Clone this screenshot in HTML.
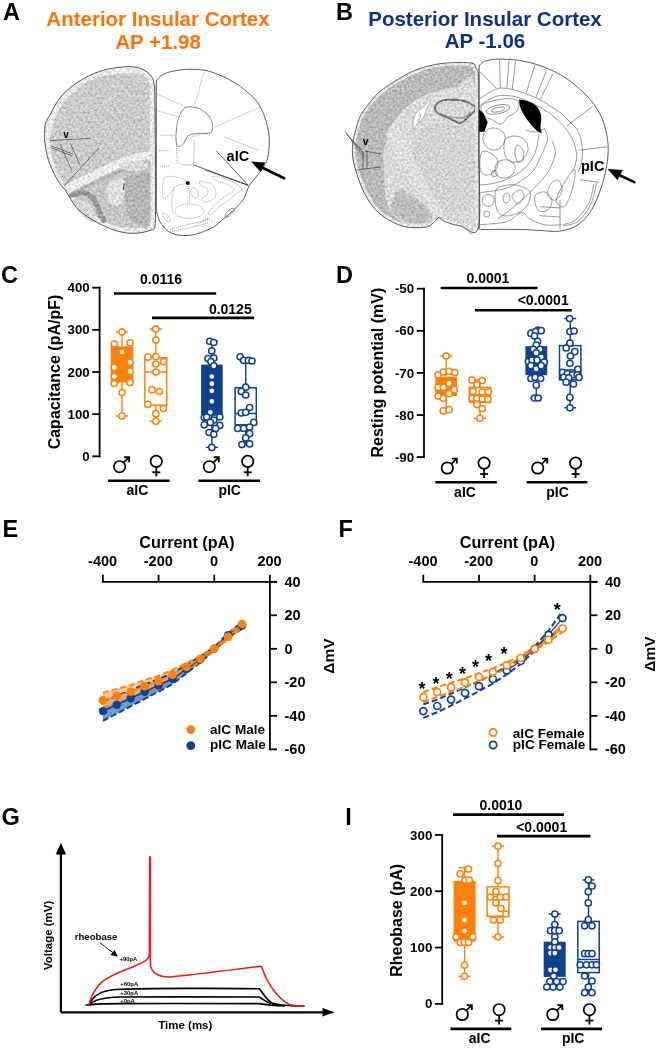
<!DOCTYPE html><html><head><meta charset="utf-8"><style>html,body{margin:0;padding:0;background:#fff;width:656px;height:1049px;overflow:hidden}svg{display:block;will-change:transform}</style></head><body>
<svg width="656" height="1049" viewBox="0 0 656 1049" font-family="Liberation Sans, sans-serif" font-weight="bold">
<text x="3" y="19.5" font-size="23.5" text-anchor="start" fill="#000" >A</text>
<text x="336" y="19.5" font-size="23.5" text-anchor="start" fill="#000" >B</text>
<text x="158" y="26" font-size="20.5" text-anchor="middle" fill="#FF7208" >Anterior Insular Cortex</text>
<text x="158" y="48.5" font-size="20.5" text-anchor="middle" fill="#FF7208" >AP +1.98</text>
<text x="485" y="26" font-size="20.5" text-anchor="middle" fill="#0D3282" >Posterior Insular Cortex</text>
<text x="485" y="48" font-size="20.5" text-anchor="middle" fill="#0D3282" >AP -1.06</text>
<defs>
<filter id="tex" filterUnits="userSpaceOnUse" x="0" y="50" width="656" height="200" color-interpolation-filters="sRGB">
<feTurbulence type="fractalNoise" baseFrequency="0.42" numOctaves="2" seed="7" result="n"/>
<feColorMatrix in="n" type="matrix" values="1 0 0 0 0  1 0 0 0 0  1 0 0 0 0  0 0 0 0 1" result="g"/>
<feComposite in="SourceGraphic" in2="g" operator="arithmetic" k1="0" k2="1" k3="0.4" k4="-0.2" result="c"/>
<feComposite in="c" in2="SourceGraphic" operator="in"/>
</filter>
</defs>
<g filter="url(#tex)">
<path d="M44.6,140.0 C44.2,136.1 44.5,136.0 44.6,133.2 C44.8,130.4 44.4,126.5 45.5,123.1 C46.6,119.7 48.9,116.8 51.0,113.0 C53.1,109.2 55.2,104.3 58.3,100.2 C61.3,96.1 64.7,92.2 69.3,88.4 C73.9,84.6 79.9,80.5 85.7,77.4 C91.5,74.3 97.9,71.7 104.0,70.0 C110.1,68.3 116.8,67.5 122.3,67.0 C127.8,66.5 132.9,66.5 137.0,67.3 C141.1,68.1 144.4,70.1 147.0,71.9 C149.6,73.7 151.2,75.6 152.5,78.3 C153.8,81.0 154.1,82.7 154.5,88.0 C154.9,93.3 154.8,98.0 155.0,110.0 C155.2,122.0 155.4,145.0 155.5,160.0 C155.6,175.0 155.6,189.0 155.5,200.0 C155.4,211.0 155.9,220.9 155.0,226.0 C154.1,231.1 153.1,229.3 149.8,230.5 C146.5,231.7 140.3,233.1 135.1,233.3 C129.9,233.5 124.2,232.9 118.7,231.5 C113.2,230.1 107.4,227.5 102.2,225.1 C97.0,222.7 91.9,219.7 87.6,216.8 C83.3,213.9 79.6,211.0 76.6,207.7 C73.5,204.3 71.3,199.8 69.3,196.7 C67.3,193.6 66.2,191.5 64.7,189.4 C63.2,187.3 62.1,187.0 60.1,183.9 C58.1,180.8 54.9,175.7 52.8,171.1 C50.7,166.5 48.7,161.7 47.3,156.5 C45.9,151.3 45.0,143.9 44.6,140.0 Z" fill="#e9e9e9"/>
<path d="M50.0,140.0 C49.8,136.2 49.9,137.4 51.0,133.2 C52.1,129.0 54.1,120.4 56.5,114.9 C58.9,109.4 62.2,104.5 65.6,100.2 C68.9,95.9 71.7,93.0 76.6,89.3 C81.5,85.6 88.2,80.9 94.9,78.3 C101.6,75.7 109.5,74.5 116.8,73.7 C124.1,72.9 133.6,72.6 138.8,73.7 C144.0,74.8 146.1,77.5 147.9,80.1 C149.7,82.7 149.5,80.5 149.8,89.3 C150.2,98.1 149.9,119.5 150.0,133.0 C150.1,146.4 150.5,155.2 150.5,170.0 C150.5,184.8 151.8,212.3 150.0,222.0 C148.2,231.7 145.2,227.2 140.0,228.0 C134.8,228.8 125.2,227.8 119.0,226.5 C112.8,225.2 108.0,222.8 103.0,220.5 C98.0,218.2 93.2,215.4 89.0,212.5 C84.8,209.6 81.0,206.3 78.0,203.0 C75.0,199.7 73.2,195.5 71.0,192.5 C68.8,189.5 67.3,188.6 65.0,185.0 C62.7,181.4 59.2,175.8 57.0,171.0 C54.8,166.2 53.2,161.2 52.0,156.0 C50.8,150.8 50.2,143.8 50.0,140.0 Z" fill="#cbcbcb"/>
<path d="M66.0,189.0 C69.2,186.8 81.3,183.5 90.0,180.0 C98.7,176.5 108.0,171.3 118.0,168.0 C128.0,164.7 144.6,151.0 150.0,160.0 C155.4,169.0 152.2,210.8 150.5,222.0 C148.8,233.2 145.2,226.8 140.0,227.5 C134.8,228.2 125.2,227.2 119.0,226.0 C112.8,224.8 108.0,222.3 103.0,220.0 C98.0,217.7 93.2,214.9 89.0,212.0 C84.8,209.1 81.0,205.7 78.0,202.5 C75.0,199.3 73.0,195.2 71.0,193.0 C69.0,190.8 62.8,191.2 66.0,189.0 Z" fill="#c6c6c6"/>
<path d="M126.0,178.0 C128.2,173.7 134.2,175.0 138.0,174.0 C141.8,173.0 147.0,167.7 149.0,172.0 C151.0,176.3 150.0,191.7 150.0,200.0 C150.0,208.3 150.7,217.8 149.0,222.0 C147.3,226.2 143.2,225.7 140.0,225.0 C136.8,224.3 132.5,222.2 130.0,218.0 C127.5,213.8 125.7,206.7 125.0,200.0 C124.3,193.3 123.8,182.3 126.0,178.0 Z" fill="#b5b5b5"/>
<path d="M108.0,184.0 C109.7,181.2 114.3,179.7 117.0,179.0 C119.7,178.3 122.8,177.7 124.0,180.0 C125.2,182.3 125.0,189.0 124.5,193.0 C124.0,197.0 123.1,202.0 121.0,204.0 C118.9,206.0 114.3,206.3 112.0,205.0 C109.7,203.7 107.7,199.5 107.0,196.0 C106.3,192.5 106.3,186.8 108.0,184.0 Z" fill="#dedede"/>
<path d="M74.0,201.0 C75.5,199.7 82.8,199.8 86.0,201.0 C89.2,202.2 91.2,205.0 93.0,208.0 C94.8,211.0 97.2,216.7 97.0,219.0 C96.8,221.3 94.3,222.5 92.0,222.0 C89.7,221.5 85.5,218.2 83.0,216.0 C80.5,213.8 78.5,211.5 77.0,209.0 C75.5,206.5 72.5,202.3 74.0,201.0 Z" fill="#d8d8d8"/>
<path d="M74,193 C88,186 104,178 118,172 C128,168 140,166 150,165" fill="none" stroke="#b2b2b2" stroke-width="3"/>
<path d="M71.8,195.3 C73.8,194.9 80.2,192.5 83.5,192.8 C86.8,193.1 89.7,194.9 91.9,197.0 C94.2,199.1 95.6,202.5 97.0,205.3 C98.4,208.1 99.2,211.2 100.3,213.7 C101.4,216.2 103.1,219.3 103.7,220.4" fill="none" stroke="#969696" stroke-width="5" stroke-linecap="round"/>
<path d="M63.4,186 C80,177 100,168 117,160 C128,155 140,152 150,151 L150,159 C140,160 128,164 118.7,168.4 C100,177 84,185 70.1,192.8 Z" fill="#ebebeb"/>
<ellipse cx="134" cy="166" rx="15" ry="5" fill="#d9d9d9"/>
<rect x="150.5" y="85" width="5" height="142" fill="#e6e6e6"/>
</g>
<path d="M44.6,140.0 C44.2,136.1 44.5,136.0 44.6,133.2 C44.8,130.4 44.4,126.5 45.5,123.1 C46.6,119.7 48.9,116.8 51.0,113.0 C53.1,109.2 55.2,104.3 58.3,100.2 C61.3,96.1 64.7,92.2 69.3,88.4 C73.9,84.6 79.9,80.5 85.7,77.4 C91.5,74.3 97.9,71.7 104.0,70.0 C110.1,68.3 116.8,67.5 122.3,67.0 C127.8,66.5 132.9,66.5 137.0,67.3 C141.1,68.1 144.4,70.1 147.0,71.9 C149.6,73.7 151.2,75.6 152.5,78.3 C153.8,81.0 154.1,82.7 154.5,88.0 C154.9,93.3 154.8,98.0 155.0,110.0 C155.2,122.0 155.4,145.0 155.5,160.0 C155.6,175.0 155.6,189.0 155.5,200.0 C155.4,211.0 155.9,220.9 155.0,226.0 C154.1,231.1 153.1,229.3 149.8,230.5 C146.5,231.7 140.3,233.1 135.1,233.3 C129.9,233.5 124.2,232.9 118.7,231.5 C113.2,230.1 107.4,227.5 102.2,225.1 C97.0,222.7 91.9,219.7 87.6,216.8 C83.3,213.9 79.6,211.0 76.6,207.7 C73.5,204.3 71.3,199.8 69.3,196.7 C67.3,193.6 66.2,191.5 64.7,189.4 C63.2,187.3 62.1,187.0 60.1,183.9 C58.1,180.8 54.9,175.7 52.8,171.1 C50.7,166.5 48.7,161.7 47.3,156.5 C45.9,151.3 45.0,143.9 44.6,140.0 Z" fill="none" stroke="#444" stroke-width="0.85"/>
<path d="M124,183.5 L123.6,190" stroke="#555" stroke-width="1.3"/>
<g stroke="#333" stroke-width="0.6" fill="none"><line x1="50" y1="140.5" x2="91.2" y2="138.3"/><line x1="51" y1="146" x2="73" y2="154"/><line x1="52" y1="148" x2="72" y2="156"/><line x1="60" y1="144" x2="72" y2="171"/><line x1="70" y1="143" x2="80" y2="165"/><line x1="99" y1="148" x2="64" y2="186"/></g>
<text x="66.1" y="138.3" font-size="10" text-anchor="middle" fill="#000">v</text>
<path d="M156.3,80.5 C157.3,79.5 159.5,76.4 162.3,74.8 C165.1,73.2 169.0,72.0 173.3,71.1 C177.6,70.2 182.7,69.4 187.9,69.3 C193.1,69.2 199.2,69.3 204.4,70.2 C209.6,71.1 214.1,72.8 219.0,74.8 C223.9,76.8 229.1,79.3 233.7,82.1 C238.3,84.8 242.6,87.9 246.5,91.3 C250.4,94.7 254.4,97.9 257.4,102.2 C260.4,106.5 262.9,112.0 264.7,116.9 C266.5,121.8 267.6,126.9 268.4,131.5 C269.2,136.1 269.5,139.6 269.3,144.3 C269.1,149.1 268.6,155.4 267.0,160.0 C265.4,164.6 262.9,167.8 260.0,172.0 C257.1,176.2 252.2,180.9 249.5,185.3 C246.8,189.7 246.2,194.6 243.9,198.4 C241.6,202.2 238.8,205.1 235.5,208.4 C232.2,211.8 227.4,215.4 223.8,218.5 C220.2,221.6 217.6,224.5 213.7,226.9 C209.8,229.3 204.2,231.3 200.3,232.7 C196.4,234.1 194.1,234.8 190.2,235.2 C186.3,235.6 180.7,235.7 176.8,234.9 C172.9,234.1 169.6,232.4 166.8,230.2 C164.0,228.0 161.8,224.9 160.1,221.8 C158.4,218.7 157.1,213.5 156.5,211.8" fill="#fff" stroke="#333" stroke-width="0.8"/>
<line x1="156.3" y1="80" x2="156.3" y2="213" stroke="#444" stroke-width="0.9"/>
<g fill="none" stroke="#666" stroke-width="0.6" stroke-dasharray="1.1,0.9"><line x1="204.4" y1="70.2" x2="194.3" y2="105.9"/><line x1="156.8" y1="94" x2="186.1" y2="106.8"/><line x1="156.8" y1="110.5" x2="178.8" y2="116.9"/><line x1="215.4" y1="126.9" x2="260.2" y2="106.8"/><line x1="224.5" y1="137" x2="257.4" y2="149.8"/><line x1="160.5" y1="135.2" x2="175.1" y2="135.2"/><line x1="158.7" y1="150.7" x2="169.6" y2="150.7"/><line x1="160" y1="166" x2="170" y2="166"/><path d="M176.3,144 L177.4,162.5 C182,165 188,165 193.4,164.8 L194.6,139.6"/><path d="M184.3,140.7 C192,136 200,134 209.9,133.3"/><path d="M165.7,176.9 C167.7,175.7 171.9,176.6 175.0,177.0 C178.1,177.4 182.4,178.0 184.0,179.1 C185.6,180.2 185.7,182.7 184.7,183.7 C183.7,184.7 180.1,183.9 177.9,185.2 C175.8,186.5 174.1,189.0 171.8,191.3 C169.5,193.6 165.6,199.0 164.1,199.0 C162.6,199.0 162.8,193.8 162.6,191.3 C162.4,188.8 162.5,186.4 163.0,184.0 C163.5,181.6 163.7,178.1 165.7,176.9 Z"/><ellipse cx="189.3" cy="211.2" rx="14.5" ry="7.2"/><path d="M174.8,186.8 C171,195 171,206 173.3,214.2"/><path d="M188,186 C190,192 190,198 189,203"/><ellipse cx="194.6" cy="192.9" rx="3.4" ry="5.3" transform="rotate(-25 194.6 192.9)"/><path d="M199.2,182.2 C200.0,181.6 204.7,182.0 207.0,182.5 C209.3,183.0 211.4,183.2 212.9,185.2 C214.4,187.2 216.2,192.0 216.0,194.4 C215.8,196.8 213.8,198.2 212.0,199.5 C210.2,200.8 206.6,202.2 205.0,202.0 C203.4,201.8 202.2,199.2 202.5,198.0 C202.8,196.8 206.2,196.0 207.0,194.5 C207.8,193.0 208.3,190.4 207.5,189.0 C206.7,187.6 203.4,187.1 202.0,186.0 C200.6,184.9 198.4,182.8 199.2,182.2 Z"/><path d="M212.9,176.1 C214.7,175.8 221.8,177.1 226.6,179.1 C231.4,181.1 240.3,185.8 241.9,188.3 C243.5,190.8 238.3,192.0 236.0,194.0 C233.7,196.0 231.0,198.3 228.2,200.5 C225.4,202.7 221.8,204.7 219.0,207.0 C216.2,209.3 213.2,213.2 211.4,214.2 C209.6,215.1 207.8,214.2 208.4,212.7 C209.0,211.2 212.5,207.6 215.0,205.0 C217.5,202.4 220.4,199.9 223.6,197.4 C226.8,194.9 233.9,192.0 234.3,189.8 C234.7,187.6 229.1,185.5 226.0,184.0 C222.9,182.5 218.2,182.0 216.0,180.7 C213.8,179.4 211.1,176.4 212.9,176.1 Z"/><ellipse cx="166.4" cy="217.3" rx="2.3" ry="5.3" transform="rotate(-35 166.4 217.3)"/><path d="M170.2,229.5 C180,226 195,223 205.3,220.3 C209,219 212,220 212.9,221.8"/><path d="M172,231.5 C185,229 198,226 208,223"/><path d="M195,226 C200,222 205,219 210,218"/></g>
<path d="M187.9,106.8 C190.7,106.5 195.6,107.2 198.9,108.6 C202.2,110.0 205.7,112.4 208.0,115.0 C210.3,117.6 212.1,121.3 212.6,124.2 C213.1,127.1 212.8,130.9 210.8,132.4 C208.8,133.9 203.9,133.0 200.7,133.3 C197.5,133.6 193.9,133.7 191.6,134.3 C189.3,134.9 188.2,135.6 187.0,137.0 C185.8,138.4 185.4,141.0 184.3,142.5 C183.2,144.0 181.8,145.7 180.6,146.1 C179.4,146.5 177.8,147.0 177.0,145.2 C176.2,143.4 175.8,139.3 176.0,135.2 C176.2,131.1 176.8,124.6 177.9,120.5 C179.0,116.4 180.7,112.8 182.4,110.5 C184.1,108.2 185.2,107.1 187.9,106.8 Z" fill="none" stroke="#555" stroke-width="0.7"/>
<g fill="none" stroke="#333" stroke-width="0.75"><line x1="193.4" y1="164.8" x2="248.3" y2="185.3"/><line x1="216.3" y1="151" x2="248.3" y2="185.3"/><line x1="205.3" y1="170" x2="248" y2="185.2"/><ellipse cx="229.7" cy="212.7" rx="6" ry="2.3" transform="rotate(-45 229.7 212.7)" stroke="#555" stroke-width="0.6"/></g>
<circle cx="187.8" cy="183" r="1.9" fill="#000"/>
<text x="226.6" y="160.6" font-size="14.5" fill="#000">aIC</text>
<line x1="284.2" y1="178.2" x2="260" y2="166.5" stroke="#000" stroke-width="2.7" stroke-linecap="round"/>
<polygon points="251.1,161.4 265.2,162.6 260.6,172.1" fill="#000"/>
<g filter="url(#tex)">
<path d="M354.6,134.0 C355.8,129.2 357.6,121.9 359.9,116.9 C362.2,111.9 365.3,108.2 368.5,104.1 C371.7,100.0 374.8,96.0 379.1,92.3 C383.4,88.6 388.4,85.2 394.1,81.7 C399.8,78.2 406.6,73.8 413.3,71.0 C420.1,68.2 427.5,66.0 434.6,64.6 C441.7,63.2 449.6,62.7 456.0,62.5 C462.4,62.3 469.6,62.4 473.0,63.5 C476.4,64.6 475.3,66.2 476.2,68.9 C477.1,71.7 478.2,66.5 478.6,80.0 C479.0,93.5 478.6,125.5 478.6,150.0 C478.6,174.5 481.7,214.3 478.6,227.0 C475.5,239.7 465.8,226.9 460.2,226.0 C454.6,225.1 448.9,223.2 445.3,221.8 C441.8,220.4 440.7,217.5 438.9,217.5 C437.1,217.5 436.7,220.2 434.6,221.8 C432.5,223.4 430.7,226.2 426.1,227.1 C421.5,228.0 412.6,228.0 406.9,227.1 C401.2,226.2 396.6,224.1 392.0,221.8 C387.4,219.5 383.0,216.8 379.1,213.2 C375.2,209.6 371.7,205.4 368.5,200.4 C365.3,195.4 362.5,189.7 360.0,183.3 C357.5,176.9 354.8,168.2 353.5,162.0 C352.2,155.8 352.3,150.7 352.5,146.0 C352.7,141.3 353.4,138.8 354.6,134.0 Z" fill="#e6e6e6"/>
<path d="M357.5,134.0 C358.7,129.3 360.2,122.8 362.5,118.0 C364.8,113.2 367.9,109.4 371.0,105.5 C374.1,101.6 376.9,98.1 381.0,94.5 C385.1,90.9 389.9,87.4 395.5,84.0 C401.1,80.6 407.9,76.8 414.5,74.0 C421.1,71.2 428.1,68.9 435.0,67.5 C441.9,66.1 450.0,65.7 456.0,65.5 C462.0,65.3 468.0,65.6 471.0,66.5 C474.0,67.4 473.3,68.8 474.0,71.0 C474.7,73.2 474.8,66.8 475.0,80.0 C475.2,93.2 475.0,126.0 475.0,150.0 C475.0,174.0 477.5,211.8 475.0,224.0 C472.5,236.2 464.9,223.9 460.0,223.0 C455.1,222.1 448.8,220.2 445.3,218.8 C441.8,217.4 440.7,214.5 438.9,214.5 C437.1,214.5 436.8,217.2 434.6,218.8 C432.5,220.4 430.6,223.1 426.0,224.0 C421.4,224.9 412.5,224.8 407.0,224.0 C401.5,223.2 397.3,221.2 393.0,219.0 C388.7,216.8 384.7,214.4 381.0,211.0 C377.3,207.6 374.0,203.3 371.0,198.5 C368.0,193.7 365.4,188.1 363.0,182.0 C360.6,175.9 357.8,168.0 356.5,162.0 C355.2,156.0 355.3,150.7 355.5,146.0 C355.7,141.3 356.3,138.7 357.5,134.0 Z" fill="#b9b9b9"/>
<path d="M387.7,138.2 C389.1,134.3 390.2,130.8 392.0,128.0 C393.8,125.2 396.0,123.9 398.3,121.2 C400.6,118.5 403.1,114.8 406.0,112.0 C408.9,109.2 412.2,106.5 415.4,104.1 C418.6,101.7 421.8,99.5 425.0,97.5 C428.2,95.5 431.1,93.7 434.6,92.3 C438.1,90.9 442.4,89.9 446.0,89.0 C449.6,88.1 451.2,87.3 456.0,87.0 C460.8,86.7 471.8,64.2 475.0,87.0 C478.2,109.8 477.5,201.3 475.0,224.0 C472.5,246.7 464.9,223.9 460.0,223.0 C455.1,222.1 448.8,220.2 445.3,218.8 C441.8,217.4 440.7,214.5 438.9,214.5 C437.1,214.5 436.8,217.2 434.6,218.8 C432.5,220.4 430.6,223.1 426.0,224.0 C421.4,224.9 411.6,224.7 407.0,224.0 C402.4,223.3 401.1,221.9 398.3,219.6 C395.5,217.3 392.1,213.3 390.0,210.0 C387.9,206.7 386.9,204.4 386.0,200.0 C385.1,195.6 384.8,189.1 384.5,183.3 C384.2,177.5 384.2,170.3 384.0,165.0 C383.8,159.7 382.8,155.8 383.4,151.3 C384.0,146.8 386.3,142.1 387.7,138.2 Z" fill="#dadada"/>
<path d="M388,137 C392,124 404,110 420,100 C435,92 455,88 476,88" fill="none" stroke="#dcdcdc" stroke-width="4"/>
<path d="M420.0,130.0 C424.5,125.7 433.3,124.7 440.0,124.0 C446.7,123.3 454.2,124.7 460.0,126.0 C465.8,127.3 472.5,119.7 475.0,132.0 C477.5,144.3 477.2,186.7 475.0,200.0 C472.8,213.3 467.0,209.7 462.0,212.0 C457.0,214.3 450.3,215.0 445.0,214.0 C439.7,213.0 434.5,210.0 430.0,206.0 C425.5,202.0 421.0,196.0 418.0,190.0 C415.0,184.0 412.8,176.7 412.0,170.0 C411.2,163.3 411.7,156.7 413.0,150.0 C414.3,143.3 415.5,134.3 420.0,130.0 Z" fill="#d3d3d3"/>
<path d="M398.0,190.0 C401.5,188.0 407.5,193.3 412.0,196.0 C416.5,198.7 421.7,202.3 425.0,206.0 C428.3,209.7 432.2,215.2 432.0,218.0 C431.8,220.8 428.0,222.2 424.0,223.0 C420.0,223.8 412.3,223.8 408.0,223.0 C403.7,222.2 400.8,220.5 398.0,218.0 C395.2,215.5 391.0,212.7 391.0,208.0 C391.0,203.3 394.5,192.0 398.0,190.0 Z" fill="#bdbdbd"/>
<path d="M388.0,132.0 C387.7,127.0 394.3,125.0 398.0,128.0 C401.7,131.0 405.5,141.3 410.0,150.0 C414.5,158.7 420.0,170.7 425.0,180.0 C430.0,189.3 436.5,200.0 440.0,206.0 C443.5,212.0 446.7,213.7 446.0,216.0 C445.3,218.3 439.0,221.3 436.0,220.0 C433.0,218.7 431.7,214.3 428.0,208.0 C424.3,201.7 418.7,190.3 414.0,182.0 C409.3,173.7 404.3,166.3 400.0,158.0 C395.7,149.7 388.3,137.0 388.0,132.0 Z" fill="#dedede"/>
<path d="M435.4,105.9 C436.4,104.0 439.4,101.4 442.7,100.4 C445.9,99.4 450.8,99.5 454.9,99.8 C459.0,100.1 463.7,100.8 467.1,102.2 C470.6,103.6 475.4,105.9 475.6,108.3 C475.8,110.7 470.3,114.6 468.3,116.8 C466.3,119.0 465.0,120.7 463.4,121.7 C461.8,122.7 460.5,123.3 458.5,122.9 C456.5,122.5 453.8,120.5 451.2,119.3 C448.6,118.1 445.1,116.8 442.7,115.6 C440.3,114.4 437.8,113.6 436.6,112.0 C435.4,110.4 434.4,107.8 435.4,105.9 Z" fill="#d8d8d8" stroke="#707070" stroke-width="1.9"/>
<path d="M440,113.5 C448,117 456,118.5 462,118 C466,117 469,114 470,112" fill="none" stroke="#8a8a8a" stroke-width="1.3"/>
<rect x="475" y="68" width="3.6" height="159" fill="#e2e2e2"/>
</g>
<path d="M429.3,100.4 C430.3,99.7 430.9,100.3 430.5,101.6 C430.1,102.9 428.0,105.6 426.8,108.3 C425.6,111.0 424.8,115.4 423.2,118.0 C421.6,120.6 418.6,122.4 417.1,124.1 C415.7,125.8 415.1,127.0 414.5,128.0 C413.9,129.0 413.6,130.6 413.4,130.2 C413.1,129.8 413.0,127.0 413.0,125.4 C413.0,123.8 412.9,122.5 413.4,120.5 C413.9,118.5 414.1,115.6 415.9,113.2 C417.7,110.8 422.2,108.0 424.4,105.9 C426.6,103.8 428.3,101.1 429.3,100.4 Z" fill="#fbfbfb" stroke="#9a9a9a" stroke-width="0.7"/>
<path d="M419,113 C421,114 421,117 419,119 C418,121 419,123 421,122" fill="none" stroke="#888" stroke-width="0.8"/>
<path d="M354.6,134.0 C355.8,129.2 357.6,121.9 359.9,116.9 C362.2,111.9 365.3,108.2 368.5,104.1 C371.7,100.0 374.8,96.0 379.1,92.3 C383.4,88.6 388.4,85.2 394.1,81.7 C399.8,78.2 406.6,73.8 413.3,71.0 C420.1,68.2 427.5,66.0 434.6,64.6 C441.7,63.2 449.6,62.7 456.0,62.5 C462.4,62.3 469.6,62.4 473.0,63.5 C476.4,64.6 475.3,66.2 476.2,68.9 C477.1,71.7 478.2,66.5 478.6,80.0 C479.0,93.5 478.6,125.5 478.6,150.0 C478.6,174.5 481.7,214.3 478.6,227.0 C475.5,239.7 465.8,226.9 460.2,226.0 C454.6,225.1 448.9,223.2 445.3,221.8 C441.8,220.4 440.7,217.5 438.9,217.5 C437.1,217.5 436.7,220.2 434.6,221.8 C432.5,223.4 430.7,226.2 426.1,227.1 C421.5,228.0 412.6,228.0 406.9,227.1 C401.2,226.2 396.6,224.1 392.0,221.8 C387.4,219.5 383.0,216.8 379.1,213.2 C375.2,209.6 371.7,205.4 368.5,200.4 C365.3,195.4 362.5,189.7 360.0,183.3 C357.5,176.9 354.8,168.2 353.5,162.0 C352.2,155.8 352.3,150.7 352.5,146.0 C352.7,141.3 353.4,138.8 354.6,134.0 Z" fill="none" stroke="#444" stroke-width="0.8"/>
<g stroke="#333" stroke-width="0.6" fill="none"><line x1="345" y1="131" x2="364" y2="158"/><line x1="346" y1="133" x2="366" y2="157"/><line x1="347" y1="135" x2="362" y2="150"/><line x1="365" y1="151" x2="381" y2="154"/><line x1="356" y1="170" x2="381" y2="167"/><line x1="363" y1="151" x2="363" y2="169"/><line x1="367" y1="151" x2="367" y2="169"/></g>
<text x="365.7" y="145" font-size="10.5" text-anchor="middle" fill="#000">v</text>
<path d="M479.2,65.6 C480.1,64.9 481.5,62.4 484.5,61.3 C487.5,60.2 491.6,59.4 497.3,59.2 C503.0,59.0 511.6,59.2 518.7,60.3 C525.8,61.4 532.9,63.1 540.0,65.6 C547.1,68.1 555.0,71.5 561.4,75.2 C567.8,78.9 573.4,83.7 578.4,88.0 C583.4,92.3 587.3,95.8 591.2,100.8 C595.1,105.8 599.2,111.9 601.9,117.9 C604.6,124.0 606.2,131.5 607.2,137.1 C608.2,142.7 608.2,146.9 608.2,151.4 C608.2,155.9 607.5,160.0 606.9,164.3 C606.2,168.6 605.4,172.9 604.3,177.2 C603.2,181.5 601.9,185.7 600.4,190.0 C598.9,194.3 597.4,198.6 595.3,202.9 C593.2,207.2 590.8,211.8 587.6,215.7 C584.4,219.5 580.7,223.4 576.0,226.0 C571.3,228.6 565.3,230.4 559.3,231.2 C553.3,231.9 546.5,230.8 540.0,230.5 C533.5,230.2 529.9,229.7 520.0,229.5 C510.1,229.3 487.3,229.5 480.8,229.5" fill="#fff" stroke="#333" stroke-width="0.8"/>
<line x1="479.2" y1="65" x2="479.2" y2="229.5" stroke="#333" stroke-width="0.8"/>
<g fill="none" stroke="#555" stroke-width="0.6"><path d="M480.3,98.7 C481.9,97.6 486.4,93.8 490.0,92.0 C493.6,90.2 496.8,88.1 501.6,88.0 C506.4,87.9 512.3,89.2 518.7,91.2 C525.1,93.2 534.3,96.9 540.0,99.7 C545.7,102.5 549.3,105.7 552.9,108.0 C556.5,110.3 558.5,111.3 561.4,113.6 C564.2,115.9 567.5,119.5 570.0,122.0 C572.5,124.5 574.6,126.3 576.3,128.6 C578.0,130.9 579.0,133.3 580.0,136.0 C581.0,138.7 581.6,141.8 582.0,145.0 C582.4,148.2 582.7,151.7 582.5,155.0 C582.3,158.3 581.8,162.2 581.0,165.0 C580.2,167.8 578.4,170.8 577.9,172.0"/><path d="M479.2,106.1 C481.0,104.9 486.3,100.8 490.0,99.0 C493.7,97.2 496.8,95.7 501.6,95.5 C506.4,95.3 512.3,95.6 518.7,97.6 C525.1,99.5 534.3,104.1 540.0,107.2 C545.7,110.3 548.8,112.7 552.9,116.0 C557.0,119.3 561.2,123.3 564.4,127.0 C567.6,130.7 570.2,134.6 572.1,138.4 C574.0,142.2 575.3,146.7 576.0,150.0 C576.7,153.3 576.7,155.3 576.5,158.0 C576.3,160.7 575.8,163.7 575.0,166.0 C574.2,168.3 572.5,171.0 572.0,172.0"/><line x1="480.3" y1="72" x2="496.3" y2="88"/><line x1="499.5" y1="60.3" x2="500.5" y2="88"/><line x1="509" y1="60.3" x2="507" y2="88"/><line x1="515.5" y1="61.3" x2="512.3" y2="89"/><line x1="534.7" y1="65.6" x2="526.1" y2="93.3"/><line x1="546.4" y1="71" x2="535.8" y2="97.6"/><line x1="552.8" y1="74.1" x2="540" y2="99.7"/><line x1="592.7" y1="106.4" x2="567" y2="125.7"/><line x1="606.9" y1="146.9" x2="578.6" y2="150.2"/><line x1="599.2" y1="182.3" x2="579.9" y2="179.7"/><path d="M481.3,106.1 C482.7,103.6 488.6,102.0 493.0,100.8 C497.4,99.6 503.9,98.7 508.0,98.7 C512.1,98.7 515.8,99.4 517.6,100.8 C519.4,102.2 519.2,105.1 518.7,107.2 C518.2,109.3 516.2,112.0 514.4,113.6 C512.6,115.2 509.8,115.4 508.0,116.8 C506.2,118.2 505.1,121.0 503.7,122.2 C502.3,123.5 501.3,124.7 499.5,124.3 C497.7,123.9 495.5,121.4 493.0,120.0 C490.5,118.6 486.4,118.1 484.5,115.8 C482.6,113.5 479.9,108.6 481.3,106.1 Z"/><ellipse cx="498" cy="109.4" rx="12" ry="4.3" transform="rotate(-12 498 109.4)"/><ellipse cx="498" cy="109.6" rx="7" ry="2.2" transform="rotate(-12 498 109.6)"/><path d="M544.6,128.7 C545.1,130.2 547.5,134.8 547.6,137.9 C547.7,141.0 546.0,144.2 545.0,147.0 C544.0,149.8 543.4,150.8 541.5,154.6 C539.6,158.4 537.2,165.6 533.9,169.9 C530.6,174.2 526.3,177.4 521.7,180.5 C517.1,183.6 511.6,186.4 506.5,188.2 C501.4,190.0 495.7,190.4 491.2,191.2 C486.7,191.9 481.4,192.4 479.5,192.7"/><path d="M552.2,140.9 C552.7,142.9 555.8,148.3 555.3,153.1 C554.8,157.9 551.8,165.1 549.2,169.9 C546.7,174.7 543.6,178.0 540.0,182.1 C536.4,186.2 532.1,190.2 527.8,194.3 C523.5,198.4 517.9,203.2 514.1,206.5 C510.3,209.8 507.9,211.9 505.0,214.0 C502.1,216.1 498.3,218.2 497.0,219.0"/><path d="M526.3,130.2 C527.8,130.5 532.0,132.2 535.0,132.0 C538.0,131.8 543.0,129.2 544.6,128.7"/><path d="M539.0,135.0 C538.5,137.5 537.5,145.5 536.0,150.0 C534.5,154.5 532.7,158.3 530.0,162.0 C527.3,165.7 524.2,169.0 520.0,172.0 C515.8,175.0 510.0,178.0 505.0,180.0 C500.0,182.0 494.2,183.2 490.0,184.0 C485.8,184.8 481.2,184.8 479.5,185.0"/><path d="M487.0,130.0 C489.0,128.5 492.3,127.7 495.0,128.0 C497.7,128.3 501.3,130.0 503.0,132.0 C504.7,134.0 505.5,137.3 505.0,140.0 C504.5,142.7 502.2,146.3 500.0,148.0 C497.8,149.7 494.5,150.5 492.0,150.0 C489.5,149.5 486.5,147.2 485.0,145.0 C483.5,142.8 482.7,139.5 483.0,137.0 C483.3,134.5 485.0,131.5 487.0,130.0 Z"/><path d="M505.0,140.0 C506.7,136.8 511.7,136.0 515.0,136.0 C518.3,136.0 522.8,137.7 525.0,140.0 C527.2,142.3 528.5,146.7 528.0,150.0 C527.5,153.3 524.7,158.0 522.0,160.0 C519.3,162.0 514.8,162.8 512.0,162.0 C509.2,161.2 506.2,158.7 505.0,155.0 C503.8,151.3 503.3,143.2 505.0,140.0 Z"/><path d="M482.0,152.0 C484.0,149.7 489.3,152.3 492.0,154.0 C494.7,155.7 497.7,159.0 498.0,162.0 C498.3,165.0 496.2,169.8 494.0,172.0 C491.8,174.2 487.3,175.7 485.0,175.0 C482.7,174.3 480.5,171.8 480.0,168.0 C479.5,164.2 480.0,154.3 482.0,152.0 Z"/><path d="M498.0,162.0 C500.2,160.0 505.2,159.3 508.0,160.0 C510.8,160.7 514.3,163.5 515.0,166.0 C515.7,168.5 514.2,173.0 512.0,175.0 C509.8,177.0 504.8,178.5 502.0,178.0 C499.2,177.5 495.7,174.7 495.0,172.0 C494.3,169.3 495.8,164.0 498.0,162.0 Z"/><path d="M517.0,145.0 C518.3,144.3 522.0,147.5 523.0,150.0 C524.0,152.5 523.8,158.0 523.0,160.0 C522.2,162.0 519.3,163.0 518.0,162.0 C516.7,161.0 515.2,156.8 515.0,154.0 C514.8,151.2 515.7,145.7 517.0,145.0 Z"/><circle cx="494.3" cy="173.7" r="3"/><circle cx="488.2" cy="200.4" r="6"/><circle cx="486.7" cy="214.1" r="3"/><path d="M512.0,196.0 C512.3,193.7 518.0,190.0 520.0,190.0 C522.0,190.0 524.3,193.7 524.0,196.0 C523.7,198.3 520.0,204.0 518.0,204.0 C516.0,204.0 511.7,198.3 512.0,196.0 Z"/><path d="M503.0,196.0 C503.5,194.3 506.8,192.3 508.0,193.0 C509.2,193.7 510.5,198.3 510.0,200.0 C509.5,201.7 506.2,203.7 505.0,203.0 C503.8,202.3 502.5,197.7 503.0,196.0 Z"/><path d="M496.0,190.0 C497.8,185.8 504.0,185.7 508.0,185.0 C512.0,184.3 516.3,184.8 520.0,186.0 C523.7,187.2 528.7,189.0 530.0,192.0 C531.3,195.0 529.7,200.7 528.0,204.0 C526.3,207.3 523.7,210.0 520.0,212.0 C516.3,214.0 509.8,216.3 506.0,216.0 C502.2,215.7 498.7,214.3 497.0,210.0 C495.3,205.7 494.2,194.2 496.0,190.0 Z"/><path d="M479.0,224.8 C483.6,224.3 499.4,223.7 506.5,221.7 C513.6,219.7 517.9,213.1 521.7,212.6 C525.5,212.1 525.6,216.7 529.4,218.7 C533.2,220.7 539.3,223.8 544.6,224.8 C549.9,225.8 558.6,224.8 561.4,224.8"/><line x1="540" y1="215.7" x2="560.6" y2="217"/><line x1="540" y1="206.7" x2="560.6" y2="208"/><line x1="560" y1="200" x2="560" y2="229"/><path d="M596.6,182.3 C595.7,185.7 594.4,196.5 591.4,202.9 C588.4,209.3 583.3,217.1 578.6,220.9 C573.9,224.8 565.7,225.2 563.1,226.0"/><path d="M594.0,183.6 C593.1,186.8 591.9,196.9 588.9,202.9 C585.9,208.9 580.3,216.0 576.0,219.6 C571.7,223.2 565.2,223.8 563.1,224.7"/><path d="M574.7,169.4 C573.4,169.1 569.0,175.3 566.0,180.0 C563.0,184.7 558.0,193.7 556.7,197.7 C555.4,201.7 556.7,202.5 558.0,204.0 C559.3,205.5 562.4,208.0 564.4,206.7 C566.4,205.4 568.4,200.1 570.0,196.0 C571.6,191.9 573.2,186.4 574.0,182.0 C574.8,177.6 576.0,169.7 574.7,169.4 Z"/><path d="M550.0,185.0 C551.7,182.3 556.0,179.2 558.0,180.0 C560.0,180.8 562.3,186.7 562.0,190.0 C561.7,193.3 558.3,199.0 556.0,200.0 C553.7,201.0 549.0,198.5 548.0,196.0 C547.0,193.5 548.3,187.7 550.0,185.0 Z"/><path d="M535.0,196.0 C536.2,193.0 542.2,191.3 545.0,192.0 C547.8,192.7 551.5,197.0 552.0,200.0 C552.5,203.0 550.3,208.3 548.0,210.0 C545.7,211.7 540.2,212.3 538.0,210.0 C535.8,207.7 533.8,199.0 535.0,196.0 Z"/></g>
<path d="M519.2,99.5 C524,100 529,101 533,103.5 C536,105.5 538,107.5 539.2,110 C540.8,113 541.4,116 541.3,119 C541,122 540.3,125 540.6,128 C540.8,130 541.3,131.5 541.8,133.2 C540,132.8 538.5,132 537,130.8 C533.5,127.5 530,123.5 527,119.5 C524,115.5 521.5,111 520.2,107 C519.4,104.5 519.1,102 519.2,99.5 Z" fill="#000"/>
<path d="M479.2,109.4 L483.5,113.6 L487.7,122.2 L484.5,131.8 L479.2,131.8 Z" fill="#000"/>
<text x="581" y="171.3" font-size="14.5" fill="#000">pIC</text>
<line x1="634.3" y1="182.1" x2="616" y2="173.5" stroke="#000" stroke-width="2.6" stroke-linecap="round"/>
<polygon points="607.6,169.1 622.9,169.9 617.5,180.2" fill="#000"/>
<text x="1" y="282.7" font-size="23.5" text-anchor="start" fill="#000" >C</text>
<line x1="99.6" y1="286.8" x2="99.6" y2="457.2" stroke="#000" stroke-width="1.8" />
<line x1="92.3" y1="287.7" x2="100.5" y2="287.7" stroke="#000" stroke-width="1.8" />
<text x="89.7" y="292.3" font-size="13.3" text-anchor="end" fill="#000" >400</text>
<line x1="92.3" y1="329.84999999999997" x2="100.5" y2="329.84999999999997" stroke="#000" stroke-width="1.8" />
<text x="89.7" y="334.45" font-size="13.3" text-anchor="end" fill="#000" >300</text>
<line x1="92.3" y1="372.0" x2="100.5" y2="372.0" stroke="#000" stroke-width="1.8" />
<text x="89.7" y="376.6" font-size="13.3" text-anchor="end" fill="#000" >200</text>
<line x1="92.3" y1="414.15" x2="100.5" y2="414.15" stroke="#000" stroke-width="1.8" />
<text x="89.7" y="418.75" font-size="13.3" text-anchor="end" fill="#000" >100</text>
<line x1="92.3" y1="456.29999999999995" x2="100.5" y2="456.29999999999995" stroke="#000" stroke-width="1.8" />
<text x="89.7" y="460.9" font-size="13.3" text-anchor="end" fill="#000" >0</text>
<text transform="translate(59.6,372) rotate(-90)" font-size="16" text-anchor="middle">Capacitance (pA/pF)</text>
<line x1="114" y1="293.5" x2="216.2" y2="293.5" stroke="#000" stroke-width="2.6" />
<text x="161" y="284.2" font-size="14" text-anchor="middle" fill="#000" >0.0116</text>
<line x1="152" y1="317.9" x2="254.1" y2="317.9" stroke="#000" stroke-width="2.6" />
<text x="230.3" y="313.6" font-size="14" text-anchor="middle" fill="#000" >0.0125</text>
<line x1="122" y1="332" x2="122" y2="346.3" stroke="#FF800A" stroke-width="1.45" />
<line x1="122" y1="382.6" x2="122" y2="416" stroke="#FF800A" stroke-width="1.45" />
<line x1="116" y1="332" x2="128" y2="332" stroke="#FF800A" stroke-width="1.45" />
<line x1="116" y1="416" x2="128" y2="416" stroke="#FF800A" stroke-width="1.45" />
<rect x="110.7" y="346.3" width="22.6" height="36.30000000000001" fill="#FF800A"/>
<circle cx="122" cy="332" r="3.1" fill="#fff" stroke="#FF800A" stroke-width="1.5"/>
<circle cx="114.3" cy="344" r="3.1" fill="#fff" stroke="#FF800A" stroke-width="1.5"/>
<circle cx="130" cy="342.9" r="3.1" fill="#fff" stroke="#FF800A" stroke-width="1.5"/>
<circle cx="122" cy="352" r="3.1" fill="#fff" stroke="#FF800A" stroke-width="1.5"/>
<circle cx="130" cy="362.3" r="3.1" fill="#fff" stroke="#FF800A" stroke-width="1.5"/>
<circle cx="114.3" cy="367.4" r="3.1" fill="#fff" stroke="#FF800A" stroke-width="1.5"/>
<circle cx="130" cy="371.4" r="3.1" fill="#fff" stroke="#FF800A" stroke-width="1.5"/>
<circle cx="114.3" cy="376.6" r="3.1" fill="#fff" stroke="#FF800A" stroke-width="1.5"/>
<circle cx="114.3" cy="383.5" r="3.1" fill="#fff" stroke="#FF800A" stroke-width="1.5"/>
<circle cx="130" cy="382.6" r="3.1" fill="#fff" stroke="#FF800A" stroke-width="1.5"/>
<circle cx="122" cy="392.6" r="3.1" fill="#fff" stroke="#FF800A" stroke-width="1.5"/>
<circle cx="122" cy="416" r="3.1" fill="#fff" stroke="#FF800A" stroke-width="1.5"/>
<line x1="155.8" y1="328.9" x2="155.8" y2="357.7" stroke="#FF800A" stroke-width="1.45" />
<line x1="155.8" y1="405.2" x2="155.8" y2="421.2" stroke="#FF800A" stroke-width="1.45" />
<line x1="149.8" y1="328.9" x2="161.8" y2="328.9" stroke="#FF800A" stroke-width="1.45" />
<line x1="149.8" y1="421.2" x2="161.8" y2="421.2" stroke="#FF800A" stroke-width="1.45" />
<rect x="144.9" y="357.7" width="21.8" height="47.5" fill="none" stroke="#FF800A" stroke-width="1.5"/>
<line x1="144.9" y1="372" x2="166.70000000000002" y2="372" stroke="#FF800A" stroke-width="1.5" />
<circle cx="155.8" cy="328.9" r="3.1" fill="#fff" stroke="#FF800A" stroke-width="1.5"/>
<circle cx="155.8" cy="340" r="3.1" fill="#fff" stroke="#FF800A" stroke-width="1.5"/>
<circle cx="148" cy="357.2" r="3.1" fill="#fff" stroke="#FF800A" stroke-width="1.5"/>
<circle cx="155.8" cy="356.6" r="3.1" fill="#fff" stroke="#FF800A" stroke-width="1.5"/>
<circle cx="163.5" cy="361.7" r="3.1" fill="#fff" stroke="#FF800A" stroke-width="1.5"/>
<circle cx="155.8" cy="364" r="3.1" fill="#fff" stroke="#FF800A" stroke-width="1.5"/>
<circle cx="155.8" cy="372" r="3.1" fill="#fff" stroke="#FF800A" stroke-width="1.5"/>
<circle cx="152" cy="389.7" r="3.1" fill="#fff" stroke="#FF800A" stroke-width="1.5"/>
<circle cx="159.4" cy="391.5" r="3.1" fill="#fff" stroke="#FF800A" stroke-width="1.5"/>
<circle cx="147.8" cy="404.4" r="3.1" fill="#fff" stroke="#FF800A" stroke-width="1.5"/>
<circle cx="163.5" cy="408.6" r="3.1" fill="#fff" stroke="#FF800A" stroke-width="1.5"/>
<circle cx="155.8" cy="413.7" r="3.1" fill="#fff" stroke="#FF800A" stroke-width="1.5"/>
<circle cx="155.8" cy="421.2" r="3.1" fill="#fff" stroke="#FF800A" stroke-width="1.5"/>
<line x1="211.9" y1="341" x2="211.9" y2="364.6" stroke="#0F4191" stroke-width="1.45" />
<line x1="211.9" y1="415.8" x2="211.9" y2="447.4" stroke="#0F4191" stroke-width="1.45" />
<line x1="205.9" y1="341" x2="217.9" y2="341" stroke="#0F4191" stroke-width="1.45" />
<line x1="205.9" y1="447.4" x2="217.9" y2="447.4" stroke="#0F4191" stroke-width="1.45" />
<rect x="201.1" y="364.6" width="21.6" height="51.19999999999999" fill="#0F4191"/>
<circle cx="209.7" cy="341.3" r="3.1" fill="#fff" stroke="#0F4191" stroke-width="1.5"/>
<circle cx="213.8" cy="342.5" r="3.1" fill="#fff" stroke="#0F4191" stroke-width="1.5"/>
<circle cx="211.8" cy="350.9" r="3.1" fill="#fff" stroke="#0F4191" stroke-width="1.5"/>
<circle cx="207.9" cy="358.6" r="3.1" fill="#fff" stroke="#0F4191" stroke-width="1.5"/>
<circle cx="213.8" cy="358" r="3.1" fill="#fff" stroke="#0F4191" stroke-width="1.5"/>
<circle cx="210.9" cy="361.6" r="3.1" fill="#fff" stroke="#0F4191" stroke-width="1.5"/>
<circle cx="213.8" cy="365.8" r="3.1" fill="#fff" stroke="#0F4191" stroke-width="1.5"/>
<circle cx="211.8" cy="376.5" r="3.1" fill="#fff" stroke="#0F4191" stroke-width="1.5"/>
<circle cx="211.8" cy="383.7" r="3.1" fill="#fff" stroke="#0F4191" stroke-width="1.5"/>
<circle cx="211.8" cy="390.8" r="3.1" fill="#fff" stroke="#0F4191" stroke-width="1.5"/>
<circle cx="211.8" cy="401.3" r="3.1" fill="#fff" stroke="#0F4191" stroke-width="1.5"/>
<circle cx="210.3" cy="412.3" r="3.1" fill="#fff" stroke="#0F4191" stroke-width="1.5"/>
<circle cx="204.3" cy="417.6" r="3.1" fill="#fff" stroke="#0F4191" stroke-width="1.5"/>
<circle cx="206.7" cy="417" r="3.1" fill="#fff" stroke="#0F4191" stroke-width="1.5"/>
<circle cx="219.8" cy="417" r="3.1" fill="#fff" stroke="#0F4191" stroke-width="1.5"/>
<circle cx="213.8" cy="420" r="3.1" fill="#fff" stroke="#0F4191" stroke-width="1.5"/>
<circle cx="204.3" cy="424.8" r="3.1" fill="#fff" stroke="#0F4191" stroke-width="1.5"/>
<circle cx="210.3" cy="422.4" r="3.1" fill="#fff" stroke="#0F4191" stroke-width="1.5"/>
<circle cx="219.8" cy="425.4" r="3.1" fill="#fff" stroke="#0F4191" stroke-width="1.5"/>
<circle cx="215.6" cy="428.4" r="3.1" fill="#fff" stroke="#0F4191" stroke-width="1.5"/>
<circle cx="209.1" cy="432.5" r="3.1" fill="#fff" stroke="#0F4191" stroke-width="1.5"/>
<circle cx="213.8" cy="434.3" r="3.1" fill="#fff" stroke="#0F4191" stroke-width="1.5"/>
<circle cx="211.8" cy="447.4" r="3.1" fill="#fff" stroke="#0F4191" stroke-width="1.5"/>
<line x1="245.7" y1="361" x2="245.7" y2="387.8" stroke="#0F4191" stroke-width="1.45" />
<line x1="245.7" y1="424.8" x2="245.7" y2="444" stroke="#0F4191" stroke-width="1.45" />
<line x1="239.7" y1="361" x2="251.7" y2="361" stroke="#0F4191" stroke-width="1.45" />
<line x1="239.7" y1="444" x2="251.7" y2="444" stroke="#0F4191" stroke-width="1.45" />
<rect x="235.1" y="387.8" width="21.2" height="37.0" fill="none" stroke="#0F4191" stroke-width="1.5"/>
<line x1="235.1" y1="413.5" x2="256.3" y2="413.5" stroke="#0F4191" stroke-width="1.5" />
<circle cx="240.1" cy="356.8" r="3.1" fill="#fff" stroke="#0F4191" stroke-width="1.5"/>
<circle cx="243.7" cy="360.4" r="3.1" fill="#fff" stroke="#0F4191" stroke-width="1.5"/>
<circle cx="248.4" cy="360.4" r="3.1" fill="#fff" stroke="#0F4191" stroke-width="1.5"/>
<circle cx="252" cy="361" r="3.1" fill="#fff" stroke="#0F4191" stroke-width="1.5"/>
<circle cx="245.7" cy="387.2" r="3.1" fill="#fff" stroke="#0F4191" stroke-width="1.5"/>
<circle cx="241.3" cy="391.4" r="3.1" fill="#fff" stroke="#0F4191" stroke-width="1.5"/>
<circle cx="245.7" cy="395" r="3.1" fill="#fff" stroke="#0F4191" stroke-width="1.5"/>
<circle cx="249.6" cy="407.5" r="3.1" fill="#fff" stroke="#0F4191" stroke-width="1.5"/>
<circle cx="241.3" cy="412.9" r="3.1" fill="#fff" stroke="#0F4191" stroke-width="1.5"/>
<circle cx="245.7" cy="412.3" r="3.1" fill="#fff" stroke="#0F4191" stroke-width="1.5"/>
<circle cx="253.8" cy="422.4" r="3.1" fill="#fff" stroke="#0F4191" stroke-width="1.5"/>
<circle cx="237.7" cy="428.4" r="3.1" fill="#fff" stroke="#0F4191" stroke-width="1.5"/>
<circle cx="243.7" cy="428.4" r="3.1" fill="#fff" stroke="#0F4191" stroke-width="1.5"/>
<circle cx="249.6" cy="427.2" r="3.1" fill="#fff" stroke="#0F4191" stroke-width="1.5"/>
<circle cx="249.6" cy="433.7" r="3.1" fill="#fff" stroke="#0F4191" stroke-width="1.5"/>
<circle cx="245.7" cy="437.9" r="3.1" fill="#fff" stroke="#0F4191" stroke-width="1.5"/>
<circle cx="241.9" cy="444.5" r="3.1" fill="#fff" stroke="#0F4191" stroke-width="1.5"/>
<circle cx="249.6" cy="443.9" r="3.1" fill="#fff" stroke="#0F4191" stroke-width="1.5"/>
<circle cx="119.6" cy="466.7" r="5.7" fill="none" stroke="#000" stroke-width="1.7"/>
<line x1="123.6" y1="462.7" x2="128.5" y2="457.9" stroke="#000" stroke-width="1.7"/>
<polyline points="124.1,457.3 129.1,457.3 129.1,462.3" fill="none" stroke="#000" stroke-width="1.9"/>
<circle cx="156.3" cy="461.4" r="5.7" fill="none" stroke="#000" stroke-width="1.7"/>
<line x1="156.3" y1="467.1" x2="156.3" y2="476.3" stroke="#000" stroke-width="1.8"/>
<line x1="152.3" y1="472.3" x2="160.3" y2="472.3" stroke="#000" stroke-width="1.8"/>
<circle cx="209.3" cy="466.7" r="5.7" fill="none" stroke="#000" stroke-width="1.7"/>
<line x1="213.3" y1="462.7" x2="218.2" y2="457.9" stroke="#000" stroke-width="1.7"/>
<polyline points="213.8,457.3 218.8,457.3 218.8,462.3" fill="none" stroke="#000" stroke-width="1.9"/>
<circle cx="247.7" cy="461.4" r="5.7" fill="none" stroke="#000" stroke-width="1.7"/>
<line x1="247.7" y1="467.1" x2="247.7" y2="476.3" stroke="#000" stroke-width="1.8"/>
<line x1="243.7" y1="472.3" x2="251.7" y2="472.3" stroke="#000" stroke-width="1.8"/>
<line x1="108.2" y1="480.7" x2="169.6" y2="480.7" stroke="#000" stroke-width="2.6" />
<line x1="198.4" y1="480.7" x2="260.1" y2="480.7" stroke="#000" stroke-width="2.6" />
<text x="137.4" y="495.3" font-size="14" text-anchor="middle" fill="#000" >aIC</text>
<text x="229.7" y="495.3" font-size="14" text-anchor="middle" fill="#000" >pIC</text>
<text x="336" y="282.7" font-size="23.5" text-anchor="start" fill="#000" >D</text>
<line x1="424" y1="287.8" x2="424" y2="458.0" stroke="#000" stroke-width="1.8" />
<line x1="416.7" y1="288.7" x2="424.9" y2="288.7" stroke="#000" stroke-width="1.8" />
<text x="414.09999999999997" y="293.3" font-size="13.3" text-anchor="end" fill="#000" >-50</text>
<line x1="416.7" y1="330.8" x2="424.9" y2="330.8" stroke="#000" stroke-width="1.8" />
<text x="414.09999999999997" y="335.40000000000003" font-size="13.3" text-anchor="end" fill="#000" >-60</text>
<line x1="416.7" y1="372.9" x2="424.9" y2="372.9" stroke="#000" stroke-width="1.8" />
<text x="414.09999999999997" y="377.5" font-size="13.3" text-anchor="end" fill="#000" >-70</text>
<line x1="416.7" y1="415.0" x2="424.9" y2="415.0" stroke="#000" stroke-width="1.8" />
<text x="414.09999999999997" y="419.6" font-size="13.3" text-anchor="end" fill="#000" >-80</text>
<line x1="416.7" y1="457.1" x2="424.9" y2="457.1" stroke="#000" stroke-width="1.8" />
<text x="414.09999999999997" y="461.70000000000005" font-size="13.3" text-anchor="end" fill="#000" >-90</text>
<text transform="translate(382.6,372.6) rotate(-90)" font-size="16" text-anchor="middle">Resting potential (mV)</text>
<line x1="440.6" y1="288" x2="537.5" y2="288" stroke="#000" stroke-width="2.6" />
<text x="488" y="282.6" font-size="14" text-anchor="middle" fill="#000" >0.0001</text>
<line x1="474.9" y1="310.2" x2="571.8" y2="310.2" stroke="#000" stroke-width="2.6" />
<text x="543.2" y="305.4" font-size="14" text-anchor="middle" fill="#000" >&lt;0.0001</text>
<line x1="446.2" y1="356" x2="446.2" y2="376.6" stroke="#FF800A" stroke-width="1.45" />
<line x1="446.2" y1="396" x2="446.2" y2="410.9" stroke="#FF800A" stroke-width="1.45" />
<line x1="440.2" y1="356" x2="452.2" y2="356" stroke="#FF800A" stroke-width="1.45" />
<line x1="440.2" y1="410.9" x2="452.2" y2="410.9" stroke="#FF800A" stroke-width="1.45" />
<rect x="435.4" y="376.6" width="21.6" height="19.399999999999977" fill="#FF800A"/>
<circle cx="446.2" cy="356" r="3.1" fill="#fff" stroke="#FF800A" stroke-width="1.5"/>
<circle cx="438.1" cy="374.9" r="3.1" fill="#fff" stroke="#FF800A" stroke-width="1.5"/>
<circle cx="443.3" cy="372" r="3.1" fill="#fff" stroke="#FF800A" stroke-width="1.5"/>
<circle cx="449" cy="371.4" r="3.1" fill="#fff" stroke="#FF800A" stroke-width="1.5"/>
<circle cx="454.7" cy="372.6" r="3.1" fill="#fff" stroke="#FF800A" stroke-width="1.5"/>
<circle cx="449" cy="383.4" r="3.1" fill="#fff" stroke="#FF800A" stroke-width="1.5"/>
<circle cx="438.1" cy="387.4" r="3.1" fill="#fff" stroke="#FF800A" stroke-width="1.5"/>
<circle cx="443.3" cy="387.4" r="3.1" fill="#fff" stroke="#FF800A" stroke-width="1.5"/>
<circle cx="454.2" cy="389.7" r="3.1" fill="#fff" stroke="#FF800A" stroke-width="1.5"/>
<circle cx="438.1" cy="396" r="3.1" fill="#fff" stroke="#FF800A" stroke-width="1.5"/>
<circle cx="449" cy="393.7" r="3.1" fill="#fff" stroke="#FF800A" stroke-width="1.5"/>
<circle cx="443.3" cy="398.3" r="3.1" fill="#fff" stroke="#FF800A" stroke-width="1.5"/>
<circle cx="443.3" cy="410.9" r="3.1" fill="#fff" stroke="#FF800A" stroke-width="1.5"/>
<circle cx="449" cy="409.7" r="3.1" fill="#fff" stroke="#FF800A" stroke-width="1.5"/>
<line x1="479.9" y1="380" x2="479.9" y2="387.4" stroke="#FF800A" stroke-width="1.45" />
<line x1="479.9" y1="402.3" x2="479.9" y2="418.3" stroke="#FF800A" stroke-width="1.45" />
<line x1="473.9" y1="380" x2="485.9" y2="380" stroke="#FF800A" stroke-width="1.45" />
<line x1="473.9" y1="418.3" x2="485.9" y2="418.3" stroke="#FF800A" stroke-width="1.45" />
<rect x="469.29999999999995" y="387.4" width="21.2" height="14.900000000000034" fill="none" stroke="#FF800A" stroke-width="1.5"/>
<line x1="469.29999999999995" y1="395" x2="490.5" y2="395" stroke="#FF800A" stroke-width="1.5" />
<circle cx="471.9" cy="380" r="3.1" fill="#fff" stroke="#FF800A" stroke-width="1.5"/>
<circle cx="482.2" cy="380.6" r="3.1" fill="#fff" stroke="#FF800A" stroke-width="1.5"/>
<circle cx="477" cy="384.6" r="3.1" fill="#fff" stroke="#FF800A" stroke-width="1.5"/>
<circle cx="473" cy="391.4" r="3.1" fill="#fff" stroke="#FF800A" stroke-width="1.5"/>
<circle cx="482.2" cy="392" r="3.1" fill="#fff" stroke="#FF800A" stroke-width="1.5"/>
<circle cx="488.5" cy="392" r="3.1" fill="#fff" stroke="#FF800A" stroke-width="1.5"/>
<circle cx="471.9" cy="398.3" r="3.1" fill="#fff" stroke="#FF800A" stroke-width="1.5"/>
<circle cx="477" cy="398.3" r="3.1" fill="#fff" stroke="#FF800A" stroke-width="1.5"/>
<circle cx="482.2" cy="398.9" r="3.1" fill="#fff" stroke="#FF800A" stroke-width="1.5"/>
<circle cx="487.9" cy="399.4" r="3.1" fill="#fff" stroke="#FF800A" stroke-width="1.5"/>
<circle cx="477" cy="404.6" r="3.1" fill="#fff" stroke="#FF800A" stroke-width="1.5"/>
<circle cx="482.2" cy="408.6" r="3.1" fill="#fff" stroke="#FF800A" stroke-width="1.5"/>
<circle cx="479.9" cy="418.3" r="3.1" fill="#fff" stroke="#FF800A" stroke-width="1.5"/>
<line x1="536.3" y1="330" x2="536.3" y2="346.2" stroke="#0F4191" stroke-width="1.45" />
<line x1="536.3" y1="375.1" x2="536.3" y2="398" stroke="#0F4191" stroke-width="1.45" />
<line x1="530.3" y1="330" x2="542.3" y2="330" stroke="#0F4191" stroke-width="1.45" />
<line x1="530.3" y1="398" x2="542.3" y2="398" stroke="#0F4191" stroke-width="1.45" />
<rect x="525.4" y="346.2" width="21.8" height="28.900000000000034" fill="#0F4191"/>
<circle cx="538" cy="330" r="3.1" fill="#fff" stroke="#0F4191" stroke-width="1.5"/>
<circle cx="530.9" cy="333.4" r="3.1" fill="#fff" stroke="#0F4191" stroke-width="1.5"/>
<circle cx="535.7" cy="331.6" r="3.1" fill="#fff" stroke="#0F4191" stroke-width="1.5"/>
<circle cx="541.2" cy="330.7" r="3.1" fill="#fff" stroke="#0F4191" stroke-width="1.5"/>
<circle cx="534.5" cy="335.9" r="3.1" fill="#fff" stroke="#0F4191" stroke-width="1.5"/>
<circle cx="537.6" cy="341.3" r="3.1" fill="#fff" stroke="#0F4191" stroke-width="1.5"/>
<circle cx="536.3" cy="345" r="3.1" fill="#fff" stroke="#0F4191" stroke-width="1.5"/>
<circle cx="533.3" cy="349.3" r="3.1" fill="#fff" stroke="#0F4191" stroke-width="1.5"/>
<circle cx="540" cy="349.3" r="3.1" fill="#fff" stroke="#0F4191" stroke-width="1.5"/>
<circle cx="536.3" cy="352.9" r="3.1" fill="#fff" stroke="#0F4191" stroke-width="1.5"/>
<circle cx="541.2" cy="357.2" r="3.1" fill="#fff" stroke="#0F4191" stroke-width="1.5"/>
<circle cx="528.4" cy="361.5" r="3.1" fill="#fff" stroke="#0F4191" stroke-width="1.5"/>
<circle cx="532.1" cy="360.2" r="3.1" fill="#fff" stroke="#0F4191" stroke-width="1.5"/>
<circle cx="537" cy="360.2" r="3.1" fill="#fff" stroke="#0F4191" stroke-width="1.5"/>
<circle cx="544.3" cy="362.1" r="3.1" fill="#fff" stroke="#0F4191" stroke-width="1.5"/>
<circle cx="530.9" cy="365.7" r="3.1" fill="#fff" stroke="#0F4191" stroke-width="1.5"/>
<circle cx="536.3" cy="368.8" r="3.1" fill="#fff" stroke="#0F4191" stroke-width="1.5"/>
<circle cx="541.2" cy="365.7" r="3.1" fill="#fff" stroke="#0F4191" stroke-width="1.5"/>
<circle cx="530.9" cy="378.5" r="3.1" fill="#fff" stroke="#0F4191" stroke-width="1.5"/>
<circle cx="535.1" cy="377.3" r="3.1" fill="#fff" stroke="#0F4191" stroke-width="1.5"/>
<circle cx="540.6" cy="378.5" r="3.1" fill="#fff" stroke="#0F4191" stroke-width="1.5"/>
<circle cx="536.3" cy="385.2" r="3.1" fill="#fff" stroke="#0F4191" stroke-width="1.5"/>
<circle cx="534.5" cy="398" r="3.1" fill="#fff" stroke="#0F4191" stroke-width="1.5"/>
<circle cx="538.2" cy="398" r="3.1" fill="#fff" stroke="#0F4191" stroke-width="1.5"/>
<line x1="570.2" y1="318.5" x2="570.2" y2="345.6" stroke="#0F4191" stroke-width="1.45" />
<line x1="570.2" y1="379.8" x2="570.2" y2="407.8" stroke="#0F4191" stroke-width="1.45" />
<line x1="564.2" y1="318.5" x2="576.2" y2="318.5" stroke="#0F4191" stroke-width="1.45" />
<line x1="564.2" y1="407.8" x2="576.2" y2="407.8" stroke="#0F4191" stroke-width="1.45" />
<rect x="559.5" y="345.6" width="21.4" height="34.19999999999999" fill="none" stroke="#0F4191" stroke-width="1.5"/>
<line x1="559.5" y1="370" x2="580.9000000000001" y2="370" stroke="#0F4191" stroke-width="1.5" />
<circle cx="569.6" cy="318.5" r="3.1" fill="#fff" stroke="#0F4191" stroke-width="1.5"/>
<circle cx="569.9" cy="331.6" r="3.1" fill="#fff" stroke="#0F4191" stroke-width="1.5"/>
<circle cx="574.1" cy="331" r="3.1" fill="#fff" stroke="#0F4191" stroke-width="1.5"/>
<circle cx="569.9" cy="343.2" r="3.1" fill="#fff" stroke="#0F4191" stroke-width="1.5"/>
<circle cx="566.2" cy="348" r="3.1" fill="#fff" stroke="#0F4191" stroke-width="1.5"/>
<circle cx="574.8" cy="351.7" r="3.1" fill="#fff" stroke="#0F4191" stroke-width="1.5"/>
<circle cx="570.5" cy="356" r="3.1" fill="#fff" stroke="#0F4191" stroke-width="1.5"/>
<circle cx="569.9" cy="363.3" r="3.1" fill="#fff" stroke="#0F4191" stroke-width="1.5"/>
<circle cx="577.8" cy="369.4" r="3.1" fill="#fff" stroke="#0F4191" stroke-width="1.5"/>
<circle cx="562.6" cy="372.4" r="3.1" fill="#fff" stroke="#0F4191" stroke-width="1.5"/>
<circle cx="567.4" cy="373.7" r="3.1" fill="#fff" stroke="#0F4191" stroke-width="1.5"/>
<circle cx="572.3" cy="374.9" r="3.1" fill="#fff" stroke="#0F4191" stroke-width="1.5"/>
<circle cx="577.2" cy="374.9" r="3.1" fill="#fff" stroke="#0F4191" stroke-width="1.5"/>
<circle cx="579" cy="377.3" r="3.1" fill="#fff" stroke="#0F4191" stroke-width="1.5"/>
<circle cx="563.8" cy="377.3" r="3.1" fill="#fff" stroke="#0F4191" stroke-width="1.5"/>
<circle cx="568.7" cy="377.9" r="3.1" fill="#fff" stroke="#0F4191" stroke-width="1.5"/>
<circle cx="566.2" cy="382.2" r="3.1" fill="#fff" stroke="#0F4191" stroke-width="1.5"/>
<circle cx="573.5" cy="384" r="3.1" fill="#fff" stroke="#0F4191" stroke-width="1.5"/>
<circle cx="569.9" cy="397.4" r="3.1" fill="#fff" stroke="#0F4191" stroke-width="1.5"/>
<circle cx="569.9" cy="407.8" r="3.1" fill="#fff" stroke="#0F4191" stroke-width="1.5"/>
<circle cx="447.3" cy="468.0" r="5.7" fill="none" stroke="#000" stroke-width="1.7"/>
<line x1="451.3" y1="464.0" x2="456.2" y2="459.2" stroke="#000" stroke-width="1.7"/>
<polyline points="451.8,458.6 456.8,458.6 456.8,463.6" fill="none" stroke="#000" stroke-width="1.9"/>
<circle cx="484.1" cy="463.1" r="5.7" fill="none" stroke="#000" stroke-width="1.7"/>
<line x1="484.1" y1="468.8" x2="484.1" y2="478.0" stroke="#000" stroke-width="1.8"/>
<line x1="480.1" y1="474.0" x2="488.1" y2="474.0" stroke="#000" stroke-width="1.8"/>
<circle cx="537.7" cy="468.0" r="5.7" fill="none" stroke="#000" stroke-width="1.7"/>
<line x1="541.7" y1="464.0" x2="546.6" y2="459.2" stroke="#000" stroke-width="1.7"/>
<polyline points="542.2,458.6 547.2,458.6 547.2,463.6" fill="none" stroke="#000" stroke-width="1.9"/>
<circle cx="575.6" cy="463.1" r="5.7" fill="none" stroke="#000" stroke-width="1.7"/>
<line x1="575.6" y1="468.8" x2="575.6" y2="478.0" stroke="#000" stroke-width="1.8"/>
<line x1="571.6" y1="474.0" x2="579.6" y2="474.0" stroke="#000" stroke-width="1.8"/>
<line x1="435.3" y1="482.2" x2="496.8" y2="482.2" stroke="#000" stroke-width="2.6" />
<line x1="526.5" y1="482.2" x2="587.4" y2="482.2" stroke="#000" stroke-width="2.6" />
<text x="465" y="496.8" font-size="14" text-anchor="middle" fill="#000" >aIC</text>
<text x="557.5" y="496.8" font-size="14" text-anchor="middle" fill="#000" >pIC</text>
<text x="2.6" y="537.2" font-size="23.5" text-anchor="start" fill="#000" >E</text>
<text x="187" y="547.6" font-size="16.2" text-anchor="middle" fill="#000" >Current (pA)</text>
<text x="102.60000000000001" y="566.2" font-size="14.5" text-anchor="middle" fill="#000" >-400</text>
<text x="158.266" y="566.2" font-size="14.5" text-anchor="middle" fill="#000" >-200</text>
<text x="213.93200000000002" y="566.2" font-size="14.5" text-anchor="middle" fill="#000" >0</text>
<text x="269.598" y="566.2" font-size="14.5" text-anchor="middle" fill="#000" >200</text>
<line x1="102.0" y1="581.8" x2="276.99800000000005" y2="581.8" stroke="#000" stroke-width="1.8" />
<line x1="102.9" y1="574.8" x2="102.9" y2="581.8" stroke="#000" stroke-width="1.8" />
<line x1="158.566" y1="574.8" x2="158.566" y2="581.8" stroke="#000" stroke-width="1.8" />
<line x1="214.23200000000003" y1="574.8" x2="214.23200000000003" y2="581.8" stroke="#000" stroke-width="1.8" />
<line x1="269.898" y1="574.9" x2="269.898" y2="750.3" stroke="#000" stroke-width="1.8" />
<line x1="269.898" y1="581.76" x2="276.99800000000005" y2="581.76" stroke="#000" stroke-width="1.8" />
<text x="284.49800000000005" y="586.76" font-size="14.5" text-anchor="start" fill="#000" >40</text>
<line x1="269.898" y1="615.28" x2="276.99800000000005" y2="615.28" stroke="#000" stroke-width="1.8" />
<text x="284.49800000000005" y="620.28" font-size="14.5" text-anchor="start" fill="#000" >20</text>
<line x1="269.898" y1="648.8" x2="276.99800000000005" y2="648.8" stroke="#000" stroke-width="1.8" />
<text x="284.49800000000005" y="653.8" font-size="14.5" text-anchor="start" fill="#000" >0</text>
<line x1="269.898" y1="682.3199999999999" x2="276.99800000000005" y2="682.3199999999999" stroke="#000" stroke-width="1.8" />
<text x="284.49800000000005" y="687.3199999999999" font-size="14.5" text-anchor="start" fill="#000" >-20</text>
<line x1="269.898" y1="715.8399999999999" x2="276.99800000000005" y2="715.8399999999999" stroke="#000" stroke-width="1.8" />
<text x="284.49800000000005" y="720.8399999999999" font-size="14.5" text-anchor="start" fill="#000" >-40</text>
<line x1="269.898" y1="749.36" x2="276.99800000000005" y2="749.36" stroke="#000" stroke-width="1.8" />
<text x="284.49800000000005" y="754.36" font-size="14.5" text-anchor="start" fill="#000" >-60</text>
<text transform="translate(334.298,656) rotate(-90)" font-size="15.5" text-anchor="middle">&#916;mV</text>
<polygon points="102.9,701.4 116.8,695.9 130.7,690.2 144.6,684.5 158.6,679.0 172.5,673.4 186.4,664.7 200.3,656.5 214.2,647.1 228.1,632.9 242.1,622.2 242.1,628.9 228.1,637.6 214.2,650.5 200.3,662.5 186.4,673.4 172.5,684.2 158.6,691.7 144.6,698.9 130.7,706.3 116.8,713.7 102.9,720.9" fill="#6f97c9"/>
<polygon points="102.9,692.7 116.8,688.9 130.7,685.2 144.6,680.1 158.6,675.8 172.5,669.9 186.4,663.0 200.3,656.0 214.2,647.1 228.1,634.6 242.1,620.3 242.1,627.7 228.1,639.2 214.2,650.5 200.3,661.7 186.4,670.8 172.5,679.3 158.6,686.5 144.6,692.2 130.7,698.2 116.8,702.9 102.9,708.1" fill="#f6b57a" opacity="0.75"/>
<polyline points="102.9,701.4 116.8,695.9 130.7,690.2 144.6,684.5 158.6,679.0 172.5,673.4 186.4,664.7 200.3,656.5 214.2,647.1 228.1,632.9 242.1,622.2" fill="none" stroke="#0F4191" stroke-width="1.9" stroke-dasharray="6,3"/>
<polyline points="102.9,720.9 116.8,713.7 130.7,706.3 144.6,698.9 158.6,691.7 172.5,684.2 186.4,673.4 200.3,662.5 214.2,650.5 228.1,637.6 242.1,628.9" fill="none" stroke="#0F4191" stroke-width="1.9" stroke-dasharray="6,3"/>
<polyline points="102.9,692.7 116.8,688.9 130.7,685.2 144.6,680.1 158.6,675.8 172.5,669.9 186.4,663.0 200.3,656.0 214.2,647.1 228.1,634.6 242.1,620.3" fill="none" stroke="#FF800A" stroke-width="1.9" stroke-dasharray="6,3"/>
<polyline points="102.9,708.1 116.8,702.9 130.7,698.2 144.6,692.2 158.6,686.5 172.5,679.3 186.4,670.8 200.3,661.7 214.2,650.5 228.1,639.2 242.1,627.7" fill="none" stroke="#FF800A" stroke-width="1.9" stroke-dasharray="6,3"/>
<polyline points="102.9,711.1 116.8,704.8 130.7,698.2 144.6,691.7 158.6,685.3 172.5,678.8 186.4,669.1 200.3,659.5 214.2,648.8 228.1,635.2 242.1,625.5" fill="none" stroke="#0F4191" stroke-width="1.5"/>
<polyline points="102.9,700.4 116.8,695.9 130.7,691.7 144.6,686.2 158.6,681.1 172.5,674.6 186.4,666.9 200.3,658.9 214.2,648.8 228.1,636.9 242.1,624.0" fill="none" stroke="#FF800A" stroke-width="1.5"/>
<circle cx="102.9" cy="711.1" r="4.2" fill="#0F4191"/>
<circle cx="116.8" cy="704.8" r="4.2" fill="#0F4191"/>
<circle cx="130.7" cy="698.2" r="4.2" fill="#0F4191"/>
<circle cx="144.6" cy="691.7" r="4.2" fill="#0F4191"/>
<circle cx="158.6" cy="685.3" r="4.2" fill="#0F4191"/>
<circle cx="172.5" cy="678.8" r="4.2" fill="#0F4191"/>
<circle cx="186.4" cy="669.1" r="4.2" fill="#0F4191"/>
<circle cx="200.3" cy="659.5" r="4.2" fill="#0F4191"/>
<circle cx="214.2" cy="648.8" r="4.2" fill="#0F4191"/>
<circle cx="228.1" cy="635.2" r="4.2" fill="#0F4191"/>
<circle cx="242.1" cy="625.5" r="4.2" fill="#0F4191"/>
<circle cx="102.9" cy="700.4" r="4.3" fill="#FF800A"/>
<circle cx="116.8" cy="695.9" r="4.3" fill="#FF800A"/>
<circle cx="130.7" cy="691.7" r="4.3" fill="#FF800A"/>
<circle cx="144.6" cy="686.2" r="4.3" fill="#FF800A"/>
<circle cx="158.6" cy="681.1" r="4.3" fill="#FF800A"/>
<circle cx="172.5" cy="674.6" r="4.3" fill="#FF800A"/>
<circle cx="186.4" cy="666.9" r="4.3" fill="#FF800A"/>
<circle cx="200.3" cy="658.9" r="4.3" fill="#FF800A"/>
<circle cx="214.2" cy="648.8" r="4.3" fill="#FF800A"/>
<circle cx="228.1" cy="636.9" r="4.3" fill="#FF800A"/>
<circle cx="242.1" cy="624.0" r="4.3" fill="#FF800A"/>
<circle cx="190.8" cy="729.6" r="4.4" fill="#FF800A"/>
<circle cx="190.8" cy="745.6" r="4.4" fill="#0F4191"/>
<text x="210" y="733.9" font-size="13.6" text-anchor="start" fill="#000" >aIC Male</text>
<text x="210" y="749.4" font-size="13.6" text-anchor="start" fill="#000" >pIC Male</text>
<text x="338.5" y="537.2" font-size="23.5" text-anchor="start" fill="#000" >F</text>
<text x="507.4" y="547.6" font-size="16.2" text-anchor="middle" fill="#000" >Current (pA)</text>
<text x="422.99999999999994" y="566.2" font-size="14.5" text-anchor="middle" fill="#000" >-400</text>
<text x="478.66599999999994" y="566.2" font-size="14.5" text-anchor="middle" fill="#000" >-200</text>
<text x="534.332" y="566.2" font-size="14.5" text-anchor="middle" fill="#000" >0</text>
<text x="589.998" y="566.2" font-size="14.5" text-anchor="middle" fill="#000" >200</text>
<line x1="422.4" y1="581.8" x2="597.398" y2="581.8" stroke="#000" stroke-width="1.8" />
<line x1="423.29999999999995" y1="574.8" x2="423.29999999999995" y2="581.8" stroke="#000" stroke-width="1.8" />
<line x1="478.96599999999995" y1="574.8" x2="478.96599999999995" y2="581.8" stroke="#000" stroke-width="1.8" />
<line x1="534.632" y1="574.8" x2="534.632" y2="581.8" stroke="#000" stroke-width="1.8" />
<line x1="590.298" y1="574.9" x2="590.298" y2="750.3" stroke="#000" stroke-width="1.8" />
<line x1="590.298" y1="581.76" x2="597.398" y2="581.76" stroke="#000" stroke-width="1.8" />
<text x="604.898" y="586.76" font-size="14.5" text-anchor="start" fill="#000" >40</text>
<line x1="590.298" y1="615.28" x2="597.398" y2="615.28" stroke="#000" stroke-width="1.8" />
<text x="604.898" y="620.28" font-size="14.5" text-anchor="start" fill="#000" >20</text>
<line x1="590.298" y1="648.8" x2="597.398" y2="648.8" stroke="#000" stroke-width="1.8" />
<text x="604.898" y="653.8" font-size="14.5" text-anchor="start" fill="#000" >0</text>
<line x1="590.298" y1="682.3199999999999" x2="597.398" y2="682.3199999999999" stroke="#000" stroke-width="1.8" />
<text x="604.898" y="687.3199999999999" font-size="14.5" text-anchor="start" fill="#000" >-20</text>
<line x1="590.298" y1="715.8399999999999" x2="597.398" y2="715.8399999999999" stroke="#000" stroke-width="1.8" />
<text x="604.898" y="720.8399999999999" font-size="14.5" text-anchor="start" fill="#000" >-40</text>
<line x1="590.298" y1="749.36" x2="597.398" y2="749.36" stroke="#000" stroke-width="1.8" />
<text x="604.898" y="754.36" font-size="14.5" text-anchor="start" fill="#000" >-60</text>
<text transform="translate(654.698,654) rotate(-90)" font-size="15.5" text-anchor="middle">&#916;mV</text>
<polyline points="423.3,704.4 437.2,699.6 451.1,693.5 465.0,687.3 479.0,681.1 492.9,674.4 506.8,666.7 520.7,658.0 534.6,646.8 548.5,630.9 562.5,611.1" fill="none" stroke="#0F4191" stroke-width="2" stroke-dasharray="6,3"/>
<polyline points="423.3,717.9 437.2,712.3 451.1,705.6 465.0,698.4 479.0,691.2 492.9,683.5 506.8,674.4 520.7,664.1 534.6,650.8 548.5,638.9 562.5,625.2" fill="none" stroke="#0F4191" stroke-width="2" stroke-dasharray="6,3"/>
<polyline points="423.3,692.2 437.2,687.2 451.1,682.7 465.0,678.5 479.0,673.1 492.9,668.4 506.8,662.5 520.7,655.8 534.6,647.3 548.5,637.6 562.5,625.2" fill="none" stroke="#FF800A" stroke-width="2" stroke-dasharray="6,3"/>
<polyline points="423.3,702.3 437.2,696.9 451.1,691.7 465.0,686.8 479.0,680.8 492.9,675.1 506.8,668.2 520.7,660.2 534.6,650.3 548.5,641.9 562.5,631.9" fill="none" stroke="#FF800A" stroke-width="2" stroke-dasharray="6,3"/>
<polyline points="506.8,670.6 520.7,661.0 534.6,648.8 548.5,634.9 562.5,618.1" fill="none" stroke="#0F4191" stroke-width="1.4"/>
<polyline points="506.8,665.4 520.7,658.0 534.6,648.8 548.5,639.7 562.5,628.5" fill="none" stroke="#FF800A" stroke-width="1.4"/>
<circle cx="423.3" cy="711.1" r="3.5" fill="#fff" stroke="#0F4191" stroke-width="1.7"/>
<circle cx="437.2" cy="706.0" r="3.5" fill="#fff" stroke="#0F4191" stroke-width="1.7"/>
<circle cx="451.1" cy="699.6" r="3.5" fill="#fff" stroke="#0F4191" stroke-width="1.7"/>
<circle cx="465.0" cy="692.9" r="3.5" fill="#fff" stroke="#0F4191" stroke-width="1.7"/>
<circle cx="479.0" cy="686.2" r="3.5" fill="#fff" stroke="#0F4191" stroke-width="1.7"/>
<circle cx="492.9" cy="679.0" r="3.5" fill="#fff" stroke="#0F4191" stroke-width="1.7"/>
<circle cx="506.8" cy="670.6" r="3.5" fill="#fff" stroke="#0F4191" stroke-width="1.7"/>
<circle cx="520.7" cy="661.0" r="3.5" fill="#fff" stroke="#0F4191" stroke-width="1.7"/>
<circle cx="534.6" cy="648.8" r="3.5" fill="#fff" stroke="#0F4191" stroke-width="1.7"/>
<circle cx="548.5" cy="634.9" r="3.5" fill="#fff" stroke="#0F4191" stroke-width="1.7"/>
<circle cx="562.5" cy="618.1" r="3.5" fill="#fff" stroke="#0F4191" stroke-width="1.7"/>
<circle cx="423.3" cy="697.2" r="3.5" fill="#fff" stroke="#FF800A" stroke-width="1.7"/>
<circle cx="437.2" cy="692.0" r="3.5" fill="#fff" stroke="#FF800A" stroke-width="1.7"/>
<circle cx="451.1" cy="687.2" r="3.5" fill="#fff" stroke="#FF800A" stroke-width="1.7"/>
<circle cx="465.0" cy="682.7" r="3.5" fill="#fff" stroke="#FF800A" stroke-width="1.7"/>
<circle cx="479.0" cy="677.0" r="3.5" fill="#fff" stroke="#FF800A" stroke-width="1.7"/>
<circle cx="492.9" cy="671.8" r="3.5" fill="#fff" stroke="#FF800A" stroke-width="1.7"/>
<circle cx="506.8" cy="665.4" r="3.5" fill="#fff" stroke="#FF800A" stroke-width="1.7"/>
<circle cx="520.7" cy="658.0" r="3.5" fill="#fff" stroke="#FF800A" stroke-width="1.7"/>
<circle cx="534.6" cy="648.8" r="3.5" fill="#fff" stroke="#FF800A" stroke-width="1.7"/>
<circle cx="548.5" cy="639.7" r="3.5" fill="#fff" stroke="#FF800A" stroke-width="1.7"/>
<circle cx="562.5" cy="628.5" r="3.5" fill="#fff" stroke="#FF800A" stroke-width="1.7"/>
<text x="421.9" y="694.5" font-size="18" text-anchor="middle" fill="#000" >*</text>
<text x="436" y="689.9" font-size="18" text-anchor="middle" fill="#000" >*</text>
<text x="449.3" y="684.9" font-size="18" text-anchor="middle" fill="#000" >*</text>
<text x="462.6" y="679.7" font-size="18" text-anchor="middle" fill="#000" >*</text>
<text x="475.5" y="673.1" font-size="18" text-anchor="middle" fill="#000" >*</text>
<text x="488.6" y="666.6" font-size="18" text-anchor="middle" fill="#000" >*</text>
<text x="503.9" y="659.9" font-size="18" text-anchor="middle" fill="#000" >*</text>
<text x="557.3" y="615.5" font-size="18" text-anchor="middle" fill="#000" >*</text>
<circle cx="493.1" cy="732.5" r="3.6" fill="#fff" stroke="#FF800A" stroke-width="1.7"/>
<circle cx="493.1" cy="745" r="3.6" fill="#fff" stroke="#0F4191" stroke-width="1.7"/>
<text x="512.8" y="737.5" font-size="13.6" text-anchor="start" fill="#000" >aIC Female</text>
<text x="512.8" y="749.2" font-size="13.6" text-anchor="start" fill="#000" >pIC Female</text>
<text x="1.5" y="825.3" font-size="23.5" text-anchor="start" fill="#000" >G</text>
<line x1="60.9" y1="852" x2="60.9" y2="1012.3" stroke="#000" stroke-width="2.2" />
<polygon points="60.9,842.8 55.7,854.6 66.1,854.6" fill="#000"/>
<line x1="60.9" y1="1012.3" x2="325" y2="1012.3" stroke="#000" stroke-width="2.2" />
<polygon points="334.5,1012.3 322.5,1008 322.5,1016.6" fill="#000"/>
<text transform="translate(52.2,935.4) rotate(-90)" font-size="11.5" text-anchor="middle">Voltage (mV)</text>
<text x="185.3" y="1029.2" font-size="11.5" text-anchor="middle" fill="#000" >Time (ms)</text>
<g fill="none" stroke="#000" stroke-width="1.6">
<path d="M85.5,1005 L89.5,1005 C92,996 100,991 115,989.5 C150,988 230,988.3 259,988.8 C262,990 264,998 272,1003 C280,1005.5 292,1006 304.6,1006.2"/>
<path d="M89.5,1005 C93,1000 103,997.5 120,997 C160,996.8 230,996.8 259,997 C263,999 266,1003 276,1005"/>
<path d="M89.5,1005 C95,1003.5 105,1003.5 125,1003.6 C170,1003.5 230,1003.5 259,1003.6 C264,1004.5 270,1005.5 285,1006"/>
</g>
<path d="M89.1,1004.5 C91,997 93,993 95.2,990.3 C98,986 100,983 102.9,981.2 C108,977.5 112,975.5 118.1,972.8 C124,970 128,968.8 133.4,966.7 C139,964.3 142,962.5 145.5,960.6 C147.5,959 148.8,957.5 149.4,955.2 L149.7,857 L150.4,857 L150.4,965.9 C151.5,969 153,971.5 154.7,972.8 C157,974.8 159.5,975.8 162.3,976.3 C166,976.9 169,977 171.5,976.9 C200,974 235,969.5 260,966.3 L261.5,966.6 C264,974 268,984 275,992 C280,998 285,1003 290,1004.7 C295,1005.7 300,1006 304,1006.2" fill="none" stroke="#f01b1b" stroke-width="1.6"/>
<text x="96.1" y="939.6" font-size="9.6" text-anchor="middle" fill="#000" >rheobase</text>
<line x1="100" y1="942.8" x2="114" y2="953.5" stroke="#000" stroke-width="0.9" />
<polygon points="118,956.8 110.5,955 114.5,950" fill="#000"/>
<text x="119.5" y="961" font-size="5.9" text-anchor="start" fill="#000" >+90pA</text>
<text x="120.3" y="986" font-size="5.9" text-anchor="start" fill="#000" >+60pA</text>
<text x="120.3" y="994.7" font-size="5.9" text-anchor="start" fill="#000" >+30pA</text>
<text x="120.3" y="1003.1" font-size="5.9" text-anchor="start" fill="#000" >+0pA</text>
<text x="345.2" y="825.2" font-size="23.5" text-anchor="start" fill="#000" >I</text>
<line x1="442.2" y1="834.0" x2="442.2" y2="1004.8" stroke="#000" stroke-width="1.8" />
<line x1="434.9" y1="834.9" x2="443.09999999999997" y2="834.9" stroke="#000" stroke-width="1.8" />
<text x="432.29999999999995" y="839.5" font-size="13.3" text-anchor="end" fill="#000" >300</text>
<line x1="434.9" y1="891.23" x2="443.09999999999997" y2="891.23" stroke="#000" stroke-width="1.8" />
<text x="432.29999999999995" y="895.83" font-size="13.3" text-anchor="end" fill="#000" >200</text>
<line x1="434.9" y1="947.56" x2="443.09999999999997" y2="947.56" stroke="#000" stroke-width="1.8" />
<text x="432.29999999999995" y="952.16" font-size="13.3" text-anchor="end" fill="#000" >100</text>
<line x1="434.9" y1="1003.89" x2="443.09999999999997" y2="1003.89" stroke="#000" stroke-width="1.8" />
<text x="432.29999999999995" y="1008.49" font-size="13.3" text-anchor="end" fill="#000" >0</text>
<text transform="translate(401.6,920.3) rotate(-90)" font-size="16" text-anchor="middle">Rheobase (pA)</text>
<line x1="453" y1="814.6" x2="563.9" y2="814.6" stroke="#000" stroke-width="2.6" />
<text x="500.9" y="810.2" font-size="14" text-anchor="middle" fill="#000" >0.0010</text>
<line x1="497" y1="836.1" x2="590.3" y2="836.1" stroke="#000" stroke-width="2.6" />
<text x="541.7" y="831.6" font-size="14" text-anchor="middle" fill="#000" >&lt;0.0001</text>
<line x1="464.6" y1="867.7" x2="464.6" y2="880.8" stroke="#FF800A" stroke-width="1.45" />
<line x1="464.6" y1="941.7" x2="464.6" y2="976.3" stroke="#FF800A" stroke-width="1.45" />
<line x1="458.6" y1="867.7" x2="470.6" y2="867.7" stroke="#FF800A" stroke-width="1.45" />
<line x1="458.6" y1="976.3" x2="470.6" y2="976.3" stroke="#FF800A" stroke-width="1.45" />
<rect x="453.6" y="880.8" width="22" height="60.90000000000009" fill="#FF800A"/>
<circle cx="468.5" cy="869" r="3.1" fill="#fff" stroke="#FF800A" stroke-width="1.5"/>
<circle cx="460.2" cy="873.9" r="3.1" fill="#fff" stroke="#FF800A" stroke-width="1.5"/>
<circle cx="465.1" cy="880.1" r="3.1" fill="#fff" stroke="#FF800A" stroke-width="1.5"/>
<circle cx="469.2" cy="880.1" r="3.1" fill="#fff" stroke="#FF800A" stroke-width="1.5"/>
<circle cx="464.4" cy="902.9" r="3.1" fill="#fff" stroke="#FF800A" stroke-width="1.5"/>
<circle cx="464.4" cy="920" r="3.1" fill="#fff" stroke="#FF800A" stroke-width="1.5"/>
<circle cx="464.4" cy="931" r="3.1" fill="#fff" stroke="#FF800A" stroke-width="1.5"/>
<circle cx="456.1" cy="936.8" r="3.1" fill="#fff" stroke="#FF800A" stroke-width="1.5"/>
<circle cx="472.7" cy="936.8" r="3.1" fill="#fff" stroke="#FF800A" stroke-width="1.5"/>
<circle cx="460.2" cy="942.4" r="3.1" fill="#fff" stroke="#FF800A" stroke-width="1.5"/>
<circle cx="464.4" cy="942.4" r="3.1" fill="#fff" stroke="#FF800A" stroke-width="1.5"/>
<circle cx="468.5" cy="942.4" r="3.1" fill="#fff" stroke="#FF800A" stroke-width="1.5"/>
<circle cx="464.4" cy="965.2" r="3.1" fill="#fff" stroke="#FF800A" stroke-width="1.5"/>
<circle cx="464.4" cy="976.3" r="3.1" fill="#fff" stroke="#FF800A" stroke-width="1.5"/>
<line x1="498" y1="846.2" x2="498" y2="886.8" stroke="#FF800A" stroke-width="1.45" />
<line x1="498" y1="916.1" x2="498" y2="936.8" stroke="#FF800A" stroke-width="1.45" />
<line x1="492" y1="846.2" x2="504" y2="846.2" stroke="#FF800A" stroke-width="1.45" />
<line x1="492" y1="936.8" x2="504" y2="936.8" stroke="#FF800A" stroke-width="1.45" />
<rect x="487.1" y="886.8" width="21.8" height="29.300000000000068" fill="none" stroke="#FF800A" stroke-width="1.5"/>
<line x1="487.1" y1="896.5" x2="508.9" y2="896.5" stroke="#FF800A" stroke-width="1.5" />
<circle cx="498" cy="846.2" r="3.1" fill="#fff" stroke="#FF800A" stroke-width="1.5"/>
<circle cx="498" cy="863.5" r="3.1" fill="#fff" stroke="#FF800A" stroke-width="1.5"/>
<circle cx="498" cy="880.4" r="3.1" fill="#fff" stroke="#FF800A" stroke-width="1.5"/>
<circle cx="495.9" cy="891.5" r="3.1" fill="#fff" stroke="#FF800A" stroke-width="1.5"/>
<circle cx="490.4" cy="897" r="3.1" fill="#fff" stroke="#FF800A" stroke-width="1.5"/>
<circle cx="500.3" cy="897" r="3.1" fill="#fff" stroke="#FF800A" stroke-width="1.5"/>
<circle cx="505.9" cy="897" r="3.1" fill="#fff" stroke="#FF800A" stroke-width="1.5"/>
<circle cx="495.9" cy="902.9" r="3.1" fill="#fff" stroke="#FF800A" stroke-width="1.5"/>
<circle cx="501" cy="908.5" r="3.1" fill="#fff" stroke="#FF800A" stroke-width="1.5"/>
<circle cx="505.9" cy="914" r="3.1" fill="#fff" stroke="#FF800A" stroke-width="1.5"/>
<circle cx="493.4" cy="920" r="3.1" fill="#fff" stroke="#FF800A" stroke-width="1.5"/>
<circle cx="500.3" cy="920" r="3.1" fill="#fff" stroke="#FF800A" stroke-width="1.5"/>
<circle cx="498" cy="936.8" r="3.1" fill="#fff" stroke="#FF800A" stroke-width="1.5"/>
<line x1="554.7" y1="914" x2="554.7" y2="941.7" stroke="#0F4191" stroke-width="1.45" />
<line x1="554.7" y1="976.9" x2="554.7" y2="988" stroke="#0F4191" stroke-width="1.45" />
<line x1="548.7" y1="914" x2="560.7" y2="914" stroke="#0F4191" stroke-width="1.45" />
<line x1="548.7" y1="988" x2="560.7" y2="988" stroke="#0F4191" stroke-width="1.45" />
<rect x="543.7" y="941.7" width="22" height="35.19999999999993" fill="#0F4191"/>
<circle cx="554.8" cy="914" r="3.1" fill="#fff" stroke="#0F4191" stroke-width="1.5"/>
<circle cx="554.8" cy="924.5" r="3.1" fill="#fff" stroke="#0F4191" stroke-width="1.5"/>
<circle cx="550.5" cy="930.7" r="3.1" fill="#fff" stroke="#0F4191" stroke-width="1.5"/>
<circle cx="554.8" cy="930.7" r="3.1" fill="#fff" stroke="#0F4191" stroke-width="1.5"/>
<circle cx="559.2" cy="930.7" r="3.1" fill="#fff" stroke="#0F4191" stroke-width="1.5"/>
<circle cx="554.8" cy="936.9" r="3.1" fill="#fff" stroke="#0F4191" stroke-width="1.5"/>
<circle cx="554.8" cy="941.9" r="3.1" fill="#fff" stroke="#0F4191" stroke-width="1.5"/>
<circle cx="550.5" cy="947.5" r="3.1" fill="#fff" stroke="#0F4191" stroke-width="1.5"/>
<circle cx="554.8" cy="947.5" r="3.1" fill="#fff" stroke="#0F4191" stroke-width="1.5"/>
<circle cx="559.2" cy="947.5" r="3.1" fill="#fff" stroke="#0F4191" stroke-width="1.5"/>
<circle cx="550.5" cy="953.1" r="3.1" fill="#fff" stroke="#0F4191" stroke-width="1.5"/>
<circle cx="554.8" cy="953.1" r="3.1" fill="#fff" stroke="#0F4191" stroke-width="1.5"/>
<circle cx="550.5" cy="969.8" r="3.1" fill="#fff" stroke="#0F4191" stroke-width="1.5"/>
<circle cx="555.5" cy="969.8" r="3.1" fill="#fff" stroke="#0F4191" stroke-width="1.5"/>
<circle cx="553.6" cy="976" r="3.1" fill="#fff" stroke="#0F4191" stroke-width="1.5"/>
<circle cx="549.9" cy="981.6" r="3.1" fill="#fff" stroke="#0F4191" stroke-width="1.5"/>
<circle cx="556.7" cy="981.6" r="3.1" fill="#fff" stroke="#0F4191" stroke-width="1.5"/>
<circle cx="562.9" cy="981.6" r="3.1" fill="#fff" stroke="#0F4191" stroke-width="1.5"/>
<circle cx="546.8" cy="987.1" r="3.1" fill="#fff" stroke="#0F4191" stroke-width="1.5"/>
<circle cx="553" cy="987.1" r="3.1" fill="#fff" stroke="#0F4191" stroke-width="1.5"/>
<circle cx="559.8" cy="987.1" r="3.1" fill="#fff" stroke="#0F4191" stroke-width="1.5"/>
<line x1="588.5" y1="879.9" x2="588.5" y2="921.4" stroke="#0F4191" stroke-width="1.45" />
<line x1="588.5" y1="972.6" x2="588.5" y2="993" stroke="#0F4191" stroke-width="1.45" />
<line x1="582.5" y1="879.9" x2="594.5" y2="879.9" stroke="#0F4191" stroke-width="1.45" />
<line x1="582.5" y1="993" x2="594.5" y2="993" stroke="#0F4191" stroke-width="1.45" />
<rect x="577.8" y="921.4" width="21.4" height="51.200000000000045" fill="none" stroke="#0F4191" stroke-width="1.5"/>
<line x1="577.8" y1="959.5" x2="599.2" y2="959.5" stroke="#0F4191" stroke-width="1.5" />
<circle cx="588.3" cy="879.9" r="3.1" fill="#fff" stroke="#0F4191" stroke-width="1.5"/>
<circle cx="592" cy="886.1" r="3.1" fill="#fff" stroke="#0F4191" stroke-width="1.5"/>
<circle cx="588.3" cy="891.7" r="3.1" fill="#fff" stroke="#0F4191" stroke-width="1.5"/>
<circle cx="588.3" cy="902.9" r="3.1" fill="#fff" stroke="#0F4191" stroke-width="1.5"/>
<circle cx="588.3" cy="919.6" r="3.1" fill="#fff" stroke="#0F4191" stroke-width="1.5"/>
<circle cx="584.6" cy="925.8" r="3.1" fill="#fff" stroke="#0F4191" stroke-width="1.5"/>
<circle cx="592" cy="925.8" r="3.1" fill="#fff" stroke="#0F4191" stroke-width="1.5"/>
<circle cx="584.6" cy="953.7" r="3.1" fill="#fff" stroke="#0F4191" stroke-width="1.5"/>
<circle cx="588.3" cy="953.7" r="3.1" fill="#fff" stroke="#0F4191" stroke-width="1.5"/>
<circle cx="592" cy="953.7" r="3.1" fill="#fff" stroke="#0F4191" stroke-width="1.5"/>
<circle cx="580.2" cy="964.8" r="3.1" fill="#fff" stroke="#0F4191" stroke-width="1.5"/>
<circle cx="586.4" cy="964.8" r="3.1" fill="#fff" stroke="#0F4191" stroke-width="1.5"/>
<circle cx="592" cy="964.8" r="3.1" fill="#fff" stroke="#0F4191" stroke-width="1.5"/>
<circle cx="596.4" cy="964.8" r="3.1" fill="#fff" stroke="#0F4191" stroke-width="1.5"/>
<circle cx="584.6" cy="976" r="3.1" fill="#fff" stroke="#0F4191" stroke-width="1.5"/>
<circle cx="592" cy="981" r="3.1" fill="#fff" stroke="#0F4191" stroke-width="1.5"/>
<circle cx="588.3" cy="987.1" r="3.1" fill="#fff" stroke="#0F4191" stroke-width="1.5"/>
<circle cx="584.6" cy="992.7" r="3.1" fill="#fff" stroke="#0F4191" stroke-width="1.5"/>
<circle cx="592" cy="992.7" r="3.1" fill="#fff" stroke="#0F4191" stroke-width="1.5"/>
<circle cx="462.3" cy="1014.5" r="5.7" fill="none" stroke="#000" stroke-width="1.7"/>
<line x1="466.3" y1="1010.5" x2="471.2" y2="1005.7" stroke="#000" stroke-width="1.7"/>
<polyline points="466.8,1005.1 471.8,1005.1 471.8,1010.1" fill="none" stroke="#000" stroke-width="1.9"/>
<circle cx="499.1" cy="1009.7" r="5.7" fill="none" stroke="#000" stroke-width="1.7"/>
<line x1="499.1" y1="1015.4" x2="499.1" y2="1024.6" stroke="#000" stroke-width="1.8"/>
<line x1="495.1" y1="1020.6" x2="503.1" y2="1020.6" stroke="#000" stroke-width="1.8"/>
<circle cx="552.8" cy="1014.5" r="5.7" fill="none" stroke="#000" stroke-width="1.7"/>
<line x1="556.8" y1="1010.5" x2="561.7" y2="1005.7" stroke="#000" stroke-width="1.7"/>
<polyline points="557.3,1005.1 562.3,1005.1 562.3,1010.1" fill="none" stroke="#000" stroke-width="1.9"/>
<circle cx="589.4" cy="1009.7" r="5.7" fill="none" stroke="#000" stroke-width="1.7"/>
<line x1="589.4" y1="1015.4" x2="589.4" y2="1024.6" stroke="#000" stroke-width="1.8"/>
<line x1="585.4" y1="1020.6" x2="593.4" y2="1020.6" stroke="#000" stroke-width="1.8"/>
<line x1="450.5" y1="1028.9" x2="511.3" y2="1028.9" stroke="#000" stroke-width="2.6" />
<line x1="541" y1="1028.9" x2="602" y2="1028.9" stroke="#000" stroke-width="2.6" />
<text x="479.7" y="1043.2" font-size="14" text-anchor="middle" fill="#000" >aIC</text>
<text x="573.2" y="1043.2" font-size="14" text-anchor="middle" fill="#000" >pIC</text>
</svg></body></html>
